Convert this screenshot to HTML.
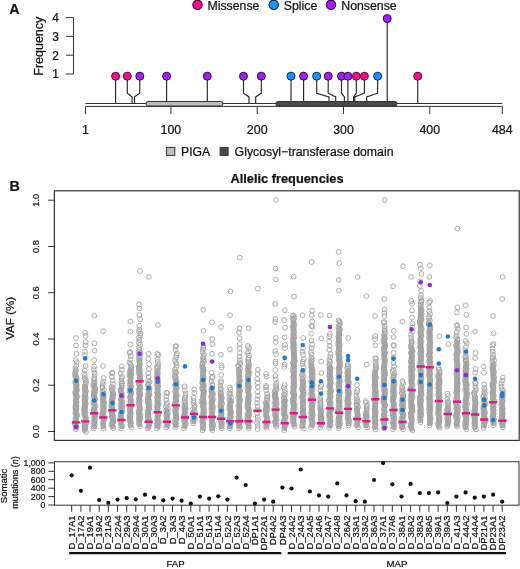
<!DOCTYPE html><html><head><meta charset="utf-8"><style>html,body{margin:0;padding:0;background:#fff;}svg{display:block;}text{font-family:"Liberation Sans", Arial, sans-serif;stroke:#111;stroke-width:0.22px;}</style></head><body>
<svg width="520" height="569" viewBox="0 0 520 569">
<rect width="520" height="569" fill="#fff"/>
<text x="9.3" y="13.6" font-size="14.3" font-weight="bold" fill="#111">A</text>
<circle cx="197.5" cy="4.8" r="4.7" fill="#EE1289" stroke="#5a0030" stroke-width="1.1"/>
<text x="207.5" y="9.9" font-size="12.3" fill="#111">Missense</text>
<circle cx="273.75" cy="4.8" r="4.7" fill="#1E90FF" stroke="#0a2a55" stroke-width="1.1"/>
<text x="283.75" y="9.9" font-size="12.3" fill="#111">Splice</text>
<circle cx="331.0" cy="4.8" r="4.7" fill="#A020F0" stroke="#350050" stroke-width="1.1"/>
<text x="341.25" y="9.9" font-size="12.3" fill="#111">Nonsense</text>
<g stroke="#333333" stroke-width="1" fill="none">
<path d="M73.5 17.6V74M66 17.6H73.5M66 36.4H73.5M66 55.2H73.5M66 74H73.5"/>
</g>
<text x="59" y="21.900000000000002" font-size="12" text-anchor="end" fill="#111">4</text>
<text x="59" y="40.699999999999996" font-size="12" text-anchor="end" fill="#111">3</text>
<text x="59" y="59.5" font-size="12" text-anchor="end" fill="#111">2</text>
<text x="59" y="78.3" font-size="12" text-anchor="end" fill="#111">1</text>
<text transform="translate(42.6,46.2) rotate(-90)" font-size="12.5" text-anchor="middle" fill="#111">Frequency</text>
<path d="M85.5 103.5H502.3M85.5 106.4H502.3" stroke="#333333" stroke-width="1" fill="none"/>
<path d="M85.5 106.4V114M170.9 106.4V114M257.2 106.4V114M343.5 106.4V114M429.8 106.4V114M502.3 106.4V114" stroke="#333333" stroke-width="1"/>
<text x="85.5" y="133.7" font-size="12.4" text-anchor="middle" fill="#111">1</text>
<text x="170.9" y="133.7" font-size="12.4" text-anchor="middle" fill="#111">100</text>
<text x="257.2" y="133.7" font-size="12.4" text-anchor="middle" fill="#111">200</text>
<text x="343.5" y="133.7" font-size="12.4" text-anchor="middle" fill="#111">300</text>
<text x="429.8" y="133.7" font-size="12.4" text-anchor="middle" fill="#111">400</text>
<text x="502.3" y="133.7" font-size="12.4" text-anchor="middle" fill="#111">484</text>
<path d="M115.6 76.2V103.5M127.3 76.2V93.2L132.1 96.9V103.5M139.8 76.2V93.2L134.5 96.9V103.5M166.6 76.2V103.5M207.3 76.2V103.5M243.5 76.2V93.2L249.0 96.9V103.5M261.3 76.2V93.2L255.7 96.9V103.5M291.0 76.2V103.5M303.6 76.2V103.5M316.7 76.2V93.2L329.0 96.9V103.5M328.2 76.2V93.2L335.7 96.9V103.5M341.5 76.2V93.2L344.4 96.9V103.5M347.9 76.2V103.5M356.3 76.2V93.2L353.6 96.9V103.5M364.4 76.2V93.2L354.8 96.9V103.5M377.6 76.2V93.2L366.7 96.9V103.5M417.7 76.2V103.5M387.2 18.5V103.5" stroke="#262626" stroke-width="1.15" fill="none"/>
<rect x="146.2" y="101.5" width="76.6" height="4.5" rx="1.6" fill="#bdbdbd" stroke="#333333" stroke-width="1"/>
<rect x="276.1" y="101.5" width="120.6" height="4.7" rx="1.6" fill="#4a4a4a" stroke="#333333" stroke-width="1"/>
<circle cx="115.6" cy="76.2" r="4.0" fill="#EE1289" stroke="#5a0030" stroke-width="1"/>
<circle cx="127.3" cy="76.2" r="4.0" fill="#EE1289" stroke="#5a0030" stroke-width="1"/>
<circle cx="139.8" cy="76.2" r="4.0" fill="#A020F0" stroke="#350050" stroke-width="1"/>
<circle cx="166.6" cy="76.2" r="4.0" fill="#A020F0" stroke="#350050" stroke-width="1"/>
<circle cx="207.3" cy="76.2" r="4.0" fill="#A020F0" stroke="#350050" stroke-width="1"/>
<circle cx="243.5" cy="76.2" r="4.0" fill="#A020F0" stroke="#350050" stroke-width="1"/>
<circle cx="261.3" cy="76.2" r="4.0" fill="#A020F0" stroke="#350050" stroke-width="1"/>
<circle cx="291.0" cy="76.2" r="4.0" fill="#1E90FF" stroke="#0a2a55" stroke-width="1"/>
<circle cx="303.6" cy="76.2" r="4.0" fill="#A020F0" stroke="#350050" stroke-width="1"/>
<circle cx="316.7" cy="76.2" r="4.0" fill="#1E90FF" stroke="#0a2a55" stroke-width="1"/>
<circle cx="328.2" cy="76.2" r="4.0" fill="#A020F0" stroke="#350050" stroke-width="1"/>
<circle cx="341.5" cy="76.2" r="4.0" fill="#A020F0" stroke="#350050" stroke-width="1"/>
<circle cx="347.9" cy="76.2" r="4.0" fill="#A020F0" stroke="#350050" stroke-width="1"/>
<circle cx="356.3" cy="76.2" r="4.0" fill="#EE1289" stroke="#5a0030" stroke-width="1"/>
<circle cx="364.4" cy="76.2" r="4.0" fill="#EE1289" stroke="#5a0030" stroke-width="1"/>
<circle cx="377.6" cy="76.2" r="4.0" fill="#1E90FF" stroke="#0a2a55" stroke-width="1"/>
<circle cx="417.7" cy="76.2" r="4.0" fill="#EE1289" stroke="#5a0030" stroke-width="1"/>
<circle cx="387.2" cy="18.5" r="4.0" fill="#A020F0" stroke="#350050" stroke-width="1"/>
<rect x="166.5" y="147.4" width="8.3" height="8.0" fill="#bdbdbd" stroke="#333333" stroke-width="1"/>
<text x="181.1" y="155.6" font-size="12.2" fill="#111">PIGA</text>
<rect x="220.1" y="147.4" width="8.0" height="8.0" fill="#4a4a4a" stroke="#333333" stroke-width="1"/>
<text x="234.6" y="155.6" font-size="12.3" fill="#111">Glycosyl−transferase domain</text>
<text x="9.5" y="191.3" font-size="14.3" font-weight="bold" fill="#111">B</text>
<text x="287" y="183" font-size="12.8" font-weight="bold" text-anchor="middle" fill="#111">Allelic frequencies</text>
<rect x="54.4" y="190.8" width="464.8" height="249.6" fill="none" stroke="#333333" stroke-width="1.2"/>
<text transform="translate(38.9,431.5) rotate(-90)" font-size="9.3" text-anchor="middle" fill="#111">0.0</text>
<text transform="translate(38.9,385.2) rotate(-90)" font-size="9.3" text-anchor="middle" fill="#111">0.2</text>
<text transform="translate(38.9,339.0) rotate(-90)" font-size="9.3" text-anchor="middle" fill="#111">0.4</text>
<text transform="translate(38.9,292.7) rotate(-90)" font-size="9.3" text-anchor="middle" fill="#111">0.6</text>
<text transform="translate(38.9,246.5) rotate(-90)" font-size="9.3" text-anchor="middle" fill="#111">0.8</text>
<text transform="translate(38.9,200.2) rotate(-90)" font-size="9.3" text-anchor="middle" fill="#111">1.0</text>
<path d="M48.1 431.5H54.5M48.1 385.2H54.5M48.1 339.0H54.5M48.1 292.7H54.5M48.1 246.5H54.5M48.1 200.2H54.5" stroke="#333333" stroke-width="1"/>
<text transform="translate(14.2,318.3) rotate(-90)" font-size="11.6" text-anchor="middle" fill="#111">VAF (%)</text>
<g fill="#b6b6b8"><rect x="73.5" y="374.0" width="5.2" height="56.0" rx="2"/><rect x="82.6" y="384.0" width="5.2" height="48.5" rx="2"/><rect x="91.6" y="383.0" width="5.2" height="46.0" rx="2"/><rect x="100.7" y="392.0" width="5.2" height="37.0" rx="2"/><rect x="109.8" y="392.0" width="5.2" height="37.0" rx="2"/><rect x="118.8" y="387.0" width="5.2" height="42.0" rx="2"/><rect x="127.9" y="367.6" width="5.2" height="60.4" rx="2"/><rect x="137.0" y="358.0" width="5.2" height="69.0" rx="2"/><rect x="146.0" y="385.0" width="5.2" height="44.0" rx="2"/><rect x="155.1" y="370.0" width="5.2" height="59.0" rx="2"/><rect x="164.2" y="408.0" width="5.2" height="20.0" rx="2"/><rect x="173.2" y="378.0" width="5.2" height="50.0" rx="2"/><rect x="182.3" y="404.0" width="5.2" height="25.0" rx="2"/><rect x="191.4" y="411.0" width="5.2" height="13.0" rx="2"/><rect x="200.5" y="364.0" width="5.2" height="67.0" rx="2"/><rect x="209.5" y="389.0" width="5.2" height="42.0" rx="2"/><rect x="218.6" y="393.5" width="5.2" height="35.5" rx="2"/><rect x="227.7" y="397.7" width="5.2" height="31.3" rx="2"/><rect x="236.7" y="368.0" width="5.2" height="61.0" rx="2"/><rect x="245.8" y="364.0" width="5.2" height="65.0" rx="2"/><rect x="263.9" y="402.0" width="5.2" height="26.5" rx="2"/><rect x="273.0" y="391.0" width="5.2" height="36.3" rx="2"/><rect x="282.1" y="398.0" width="5.2" height="33.0" rx="2"/><rect x="291.1" y="320.8" width="5.2" height="106.5" rx="2"/><rect x="300.2" y="379.0" width="5.2" height="50.0" rx="2"/><rect x="309.3" y="362.7" width="5.2" height="65.3" rx="2"/><rect x="318.3" y="407.0" width="5.2" height="21.0" rx="2"/><rect x="327.4" y="365.0" width="5.2" height="63.5" rx="2"/><rect x="336.5" y="325.7" width="5.2" height="103.3" rx="2"/><rect x="345.5" y="368.8" width="5.2" height="57.2" rx="2"/><rect x="354.6" y="406.0" width="5.2" height="22.0" rx="2"/><rect x="363.7" y="410.7" width="5.2" height="17.3" rx="2"/><rect x="372.7" y="370.0" width="5.2" height="60.0" rx="2"/><rect x="381.8" y="334.0" width="5.2" height="95.0" rx="2"/><rect x="390.9" y="377.4" width="5.2" height="52.4" rx="2"/><rect x="399.9" y="394.7" width="5.2" height="35.3" rx="2"/><rect x="409.0" y="345.4" width="5.2" height="85.6" rx="2"/><rect x="418.1" y="306.0" width="5.2" height="117.0" rx="2"/><rect x="427.2" y="322.0" width="5.2" height="104.0" rx="2"/><rect x="436.2" y="372.5" width="5.2" height="56.0" rx="2"/><rect x="445.3" y="407.0" width="5.2" height="20.3" rx="2"/><rect x="454.4" y="340.0" width="5.2" height="87.3" rx="2"/><rect x="463.4" y="361.0" width="5.2" height="69.0" rx="2"/><rect x="472.5" y="397.0" width="5.2" height="33.0" rx="2"/><rect x="481.6" y="398.0" width="5.2" height="30.5" rx="2"/><rect x="490.6" y="362.7" width="5.2" height="63.3" rx="2"/><rect x="499.7" y="394.7" width="5.2" height="33.3" rx="2"/></g>
<g fill="none" stroke="#a3a3a3" stroke-width="0.9"><circle cx="75.7" cy="429.4" r="2.4"/><circle cx="76.4" cy="427.7" r="2.4"/><circle cx="76.2" cy="426.0" r="2.4"/><circle cx="75.2" cy="424.8" r="2.4"/><circle cx="75.2" cy="423.4" r="2.4"/><circle cx="75.2" cy="422.1" r="2.4"/><circle cx="75.9" cy="421.2" r="2.4"/><circle cx="75.3" cy="419.5" r="2.4"/><circle cx="76.4" cy="418.4" r="2.4"/><circle cx="76.3" cy="416.7" r="2.4"/><circle cx="77.1" cy="415.4" r="2.4"/><circle cx="76.8" cy="414.5" r="2.4"/><circle cx="75.4" cy="413.3" r="2.4"/><circle cx="75.7" cy="412.3" r="2.4"/><circle cx="75.5" cy="410.7" r="2.4"/><circle cx="76.4" cy="409.2" r="2.4"/><circle cx="76.2" cy="408.0" r="2.4"/><circle cx="75.2" cy="407.1" r="2.4"/><circle cx="76.5" cy="406.0" r="2.4"/><circle cx="75.7" cy="404.7" r="2.4"/><circle cx="76.0" cy="403.3" r="2.4"/><circle cx="76.7" cy="402.1" r="2.4"/><circle cx="75.6" cy="400.6" r="2.4"/><circle cx="76.2" cy="399.1" r="2.4"/><circle cx="76.6" cy="397.4" r="2.4"/><circle cx="77.1" cy="396.3" r="2.4"/><circle cx="75.9" cy="395.3" r="2.4"/><circle cx="75.4" cy="393.7" r="2.4"/><circle cx="75.2" cy="392.4" r="2.4"/><circle cx="76.6" cy="390.9" r="2.4"/><circle cx="76.9" cy="389.4" r="2.4"/><circle cx="76.5" cy="388.3" r="2.4"/><circle cx="76.3" cy="386.8" r="2.4"/><circle cx="76.8" cy="385.5" r="2.4"/><circle cx="76.0" cy="383.8" r="2.4"/><circle cx="75.2" cy="382.3" r="2.4"/><circle cx="76.4" cy="380.7" r="2.4"/><circle cx="76.7" cy="378.9" r="2.4"/><circle cx="75.9" cy="377.8" r="2.4"/><circle cx="75.1" cy="376.1" r="2.4"/><circle cx="75.4" cy="374.6" r="2.4"/><circle cx="75.2" cy="373.4" r="2.4"/><circle cx="75.4" cy="371.6" r="2.4"/><circle cx="75.9" cy="370.3" r="2.4"/><circle cx="75.3" cy="368.4" r="2.4"/><circle cx="76.2" cy="366.0" r="2.4"/><circle cx="76.7" cy="362.3" r="2.4"/><circle cx="75.8" cy="360.0" r="2.4"/><circle cx="76.0" cy="338.0" r="2.4"/><circle cx="76.0" cy="345.4" r="2.4"/><circle cx="76.5" cy="353.8" r="2.4"/><circle cx="86.1" cy="431.9" r="2.4"/><circle cx="84.5" cy="430.2" r="2.4"/><circle cx="84.6" cy="428.4" r="2.4"/><circle cx="85.3" cy="427.1" r="2.4"/><circle cx="84.2" cy="425.9" r="2.4"/><circle cx="84.9" cy="424.6" r="2.4"/><circle cx="86.1" cy="423.2" r="2.4"/><circle cx="85.2" cy="421.7" r="2.4"/><circle cx="85.5" cy="420.3" r="2.4"/><circle cx="86.0" cy="419.3" r="2.4"/><circle cx="85.9" cy="417.7" r="2.4"/><circle cx="85.0" cy="416.1" r="2.4"/><circle cx="84.4" cy="414.8" r="2.4"/><circle cx="84.3" cy="413.4" r="2.4"/><circle cx="84.6" cy="412.4" r="2.4"/><circle cx="84.8" cy="411.4" r="2.4"/><circle cx="84.2" cy="410.4" r="2.4"/><circle cx="84.4" cy="409.4" r="2.4"/><circle cx="84.2" cy="408.1" r="2.4"/><circle cx="85.4" cy="406.5" r="2.4"/><circle cx="84.7" cy="405.4" r="2.4"/><circle cx="84.9" cy="404.2" r="2.4"/><circle cx="85.9" cy="403.2" r="2.4"/><circle cx="85.1" cy="401.4" r="2.4"/><circle cx="84.3" cy="400.1" r="2.4"/><circle cx="84.9" cy="399.1" r="2.4"/><circle cx="85.8" cy="397.9" r="2.4"/><circle cx="84.2" cy="396.9" r="2.4"/><circle cx="85.2" cy="395.1" r="2.4"/><circle cx="85.3" cy="394.1" r="2.4"/><circle cx="85.2" cy="393.2" r="2.4"/><circle cx="85.9" cy="391.4" r="2.4"/><circle cx="84.7" cy="389.9" r="2.4"/><circle cx="84.5" cy="388.6" r="2.4"/><circle cx="85.2" cy="387.0" r="2.4"/><circle cx="84.8" cy="385.2" r="2.4"/><circle cx="85.8" cy="383.9" r="2.4"/><circle cx="85.9" cy="382.0" r="2.4"/><circle cx="85.8" cy="380.1" r="2.4"/><circle cx="84.6" cy="378.4" r="2.4"/><circle cx="84.9" cy="376.0" r="2.4"/><circle cx="84.3" cy="373.7" r="2.4"/><circle cx="84.7" cy="370.4" r="2.4"/><circle cx="85.7" cy="366.0" r="2.4"/><circle cx="85.1" cy="332.7" r="2.4"/><circle cx="85.6" cy="336.0" r="2.4"/><circle cx="85.7" cy="342.0" r="2.4"/><circle cx="85.6" cy="345.4" r="2.4"/><circle cx="85.0" cy="351.7" r="2.4"/><circle cx="84.9" cy="355.0" r="2.4"/><circle cx="93.7" cy="428.4" r="2.4"/><circle cx="93.6" cy="426.6" r="2.4"/><circle cx="95.0" cy="424.5" r="2.4"/><circle cx="94.2" cy="422.9" r="2.4"/><circle cx="94.8" cy="421.4" r="2.4"/><circle cx="94.6" cy="420.4" r="2.4"/><circle cx="94.8" cy="418.7" r="2.4"/><circle cx="94.2" cy="417.1" r="2.4"/><circle cx="94.8" cy="416.1" r="2.4"/><circle cx="94.8" cy="414.9" r="2.4"/><circle cx="94.0" cy="413.1" r="2.4"/><circle cx="95.1" cy="411.8" r="2.4"/><circle cx="93.6" cy="410.3" r="2.4"/><circle cx="93.5" cy="409.3" r="2.4"/><circle cx="94.8" cy="407.6" r="2.4"/><circle cx="94.9" cy="406.5" r="2.4"/><circle cx="94.6" cy="404.7" r="2.4"/><circle cx="94.3" cy="403.5" r="2.4"/><circle cx="93.3" cy="402.5" r="2.4"/><circle cx="94.5" cy="400.7" r="2.4"/><circle cx="95.1" cy="399.4" r="2.4"/><circle cx="95.0" cy="398.1" r="2.4"/><circle cx="93.7" cy="396.4" r="2.4"/><circle cx="93.8" cy="395.3" r="2.4"/><circle cx="94.4" cy="394.2" r="2.4"/><circle cx="94.1" cy="393.0" r="2.4"/><circle cx="95.1" cy="392.0" r="2.4"/><circle cx="94.2" cy="390.8" r="2.4"/><circle cx="95.0" cy="389.4" r="2.4"/><circle cx="95.1" cy="388.1" r="2.4"/><circle cx="94.3" cy="386.8" r="2.4"/><circle cx="93.3" cy="385.2" r="2.4"/><circle cx="93.6" cy="383.7" r="2.4"/><circle cx="94.8" cy="382.6" r="2.4"/><circle cx="94.2" cy="381.3" r="2.4"/><circle cx="94.3" cy="379.6" r="2.4"/><circle cx="94.3" cy="378.2" r="2.4"/><circle cx="94.7" cy="375.0" r="2.4"/><circle cx="94.3" cy="372.5" r="2.4"/><circle cx="93.8" cy="369.4" r="2.4"/><circle cx="94.2" cy="366.5" r="2.4"/><circle cx="94.3" cy="315.8" r="2.4"/><circle cx="94.5" cy="343.3" r="2.4"/><circle cx="94.6" cy="350.7" r="2.4"/><circle cx="94.2" cy="360.2" r="2.4"/><circle cx="103.5" cy="428.4" r="2.4"/><circle cx="103.3" cy="426.4" r="2.4"/><circle cx="103.2" cy="424.2" r="2.4"/><circle cx="103.3" cy="422.9" r="2.4"/><circle cx="103.7" cy="421.1" r="2.4"/><circle cx="104.2" cy="419.4" r="2.4"/><circle cx="103.4" cy="418.3" r="2.4"/><circle cx="104.0" cy="416.5" r="2.4"/><circle cx="102.5" cy="415.5" r="2.4"/><circle cx="102.4" cy="414.2" r="2.4"/><circle cx="102.5" cy="413.1" r="2.4"/><circle cx="103.9" cy="411.6" r="2.4"/><circle cx="102.6" cy="409.9" r="2.4"/><circle cx="103.6" cy="408.4" r="2.4"/><circle cx="104.1" cy="407.3" r="2.4"/><circle cx="102.7" cy="405.6" r="2.4"/><circle cx="103.1" cy="403.8" r="2.4"/><circle cx="104.3" cy="402.5" r="2.4"/><circle cx="102.6" cy="400.8" r="2.4"/><circle cx="103.3" cy="399.5" r="2.4"/><circle cx="102.7" cy="398.3" r="2.4"/><circle cx="103.7" cy="397.1" r="2.4"/><circle cx="103.4" cy="396.2" r="2.4"/><circle cx="102.3" cy="394.9" r="2.4"/><circle cx="103.6" cy="393.5" r="2.4"/><circle cx="102.4" cy="392.0" r="2.4"/><circle cx="103.9" cy="390.0" r="2.4"/><circle cx="102.5" cy="388.0" r="2.4"/><circle cx="102.4" cy="386.7" r="2.4"/><circle cx="102.9" cy="384.0" r="2.4"/><circle cx="103.2" cy="381.5" r="2.4"/><circle cx="103.7" cy="378.0" r="2.4"/><circle cx="103.1" cy="331.2" r="2.4"/><circle cx="103.0" cy="366.0" r="2.4"/><circle cx="113.2" cy="428.4" r="2.4"/><circle cx="112.8" cy="426.3" r="2.4"/><circle cx="111.5" cy="424.7" r="2.4"/><circle cx="112.2" cy="423.2" r="2.4"/><circle cx="113.2" cy="422.2" r="2.4"/><circle cx="113.0" cy="420.7" r="2.4"/><circle cx="113.1" cy="419.7" r="2.4"/><circle cx="113.1" cy="418.8" r="2.4"/><circle cx="112.1" cy="417.5" r="2.4"/><circle cx="113.2" cy="416.1" r="2.4"/><circle cx="111.6" cy="414.9" r="2.4"/><circle cx="111.8" cy="413.6" r="2.4"/><circle cx="111.7" cy="412.6" r="2.4"/><circle cx="111.8" cy="411.6" r="2.4"/><circle cx="112.0" cy="410.4" r="2.4"/><circle cx="112.0" cy="408.9" r="2.4"/><circle cx="111.7" cy="407.5" r="2.4"/><circle cx="111.4" cy="406.3" r="2.4"/><circle cx="111.4" cy="405.2" r="2.4"/><circle cx="112.5" cy="403.6" r="2.4"/><circle cx="112.3" cy="402.5" r="2.4"/><circle cx="111.6" cy="400.8" r="2.4"/><circle cx="112.2" cy="399.2" r="2.4"/><circle cx="113.0" cy="397.8" r="2.4"/><circle cx="112.4" cy="396.6" r="2.4"/><circle cx="113.3" cy="395.0" r="2.4"/><circle cx="113.0" cy="393.6" r="2.4"/><circle cx="112.6" cy="391.9" r="2.4"/><circle cx="112.1" cy="390.4" r="2.4"/><circle cx="111.6" cy="389.3" r="2.4"/><circle cx="112.9" cy="388.1" r="2.4"/><circle cx="111.7" cy="386.8" r="2.4"/><circle cx="113.0" cy="384.0" r="2.4"/><circle cx="112.7" cy="380.4" r="2.4"/><circle cx="111.9" cy="377.1" r="2.4"/><circle cx="112.3" cy="373.3" r="2.4"/><circle cx="112.3" cy="372.6" r="2.4"/><circle cx="121.0" cy="428.4" r="2.4"/><circle cx="122.4" cy="426.0" r="2.4"/><circle cx="120.9" cy="424.0" r="2.4"/><circle cx="121.1" cy="422.2" r="2.4"/><circle cx="120.4" cy="421.0" r="2.4"/><circle cx="121.4" cy="419.8" r="2.4"/><circle cx="120.8" cy="418.4" r="2.4"/><circle cx="120.4" cy="417.1" r="2.4"/><circle cx="120.6" cy="415.9" r="2.4"/><circle cx="120.5" cy="414.7" r="2.4"/><circle cx="121.0" cy="413.7" r="2.4"/><circle cx="121.6" cy="412.6" r="2.4"/><circle cx="121.9" cy="411.2" r="2.4"/><circle cx="121.9" cy="409.8" r="2.4"/><circle cx="121.2" cy="408.1" r="2.4"/><circle cx="122.4" cy="406.9" r="2.4"/><circle cx="121.9" cy="405.8" r="2.4"/><circle cx="120.5" cy="404.4" r="2.4"/><circle cx="122.2" cy="402.7" r="2.4"/><circle cx="121.9" cy="401.2" r="2.4"/><circle cx="120.7" cy="399.6" r="2.4"/><circle cx="121.4" cy="398.2" r="2.4"/><circle cx="122.0" cy="396.6" r="2.4"/><circle cx="121.6" cy="394.9" r="2.4"/><circle cx="121.8" cy="393.2" r="2.4"/><circle cx="120.9" cy="391.7" r="2.4"/><circle cx="120.7" cy="390.8" r="2.4"/><circle cx="120.6" cy="389.4" r="2.4"/><circle cx="121.6" cy="387.5" r="2.4"/><circle cx="121.7" cy="385.8" r="2.4"/><circle cx="121.4" cy="384.1" r="2.4"/><circle cx="122.0" cy="383.0" r="2.4"/><circle cx="121.4" cy="381.3" r="2.4"/><circle cx="121.7" cy="379.0" r="2.4"/><circle cx="121.9" cy="376.6" r="2.4"/><circle cx="120.7" cy="373.4" r="2.4"/><circle cx="121.9" cy="369.7" r="2.4"/><circle cx="121.7" cy="366.5" r="2.4"/><circle cx="131.5" cy="427.4" r="2.4"/><circle cx="130.3" cy="425.4" r="2.4"/><circle cx="130.9" cy="423.4" r="2.4"/><circle cx="130.7" cy="421.8" r="2.4"/><circle cx="129.7" cy="420.4" r="2.4"/><circle cx="130.0" cy="419.3" r="2.4"/><circle cx="130.1" cy="417.8" r="2.4"/><circle cx="129.5" cy="416.3" r="2.4"/><circle cx="130.0" cy="415.4" r="2.4"/><circle cx="130.9" cy="413.9" r="2.4"/><circle cx="130.1" cy="412.4" r="2.4"/><circle cx="130.4" cy="411.0" r="2.4"/><circle cx="129.7" cy="409.7" r="2.4"/><circle cx="129.9" cy="408.0" r="2.4"/><circle cx="131.4" cy="406.2" r="2.4"/><circle cx="130.4" cy="405.3" r="2.4"/><circle cx="131.4" cy="403.6" r="2.4"/><circle cx="130.0" cy="402.3" r="2.4"/><circle cx="131.4" cy="401.3" r="2.4"/><circle cx="130.7" cy="400.2" r="2.4"/><circle cx="130.6" cy="399.1" r="2.4"/><circle cx="129.8" cy="397.4" r="2.4"/><circle cx="130.5" cy="395.7" r="2.4"/><circle cx="130.9" cy="394.0" r="2.4"/><circle cx="131.3" cy="392.9" r="2.4"/><circle cx="129.6" cy="391.6" r="2.4"/><circle cx="130.5" cy="390.7" r="2.4"/><circle cx="130.1" cy="389.4" r="2.4"/><circle cx="130.2" cy="388.4" r="2.4"/><circle cx="131.2" cy="387.2" r="2.4"/><circle cx="131.0" cy="386.3" r="2.4"/><circle cx="129.7" cy="384.6" r="2.4"/><circle cx="130.9" cy="382.9" r="2.4"/><circle cx="130.1" cy="381.2" r="2.4"/><circle cx="130.3" cy="379.9" r="2.4"/><circle cx="130.7" cy="378.1" r="2.4"/><circle cx="130.4" cy="376.9" r="2.4"/><circle cx="129.6" cy="375.8" r="2.4"/><circle cx="131.2" cy="374.8" r="2.4"/><circle cx="131.4" cy="373.6" r="2.4"/><circle cx="130.0" cy="372.5" r="2.4"/><circle cx="129.9" cy="371.1" r="2.4"/><circle cx="131.4" cy="369.7" r="2.4"/><circle cx="131.1" cy="367.8" r="2.4"/><circle cx="131.3" cy="366.1" r="2.4"/><circle cx="130.6" cy="364.2" r="2.4"/><circle cx="129.6" cy="362.4" r="2.4"/><circle cx="130.4" cy="359.6" r="2.4"/><circle cx="130.8" cy="356.1" r="2.4"/><circle cx="129.7" cy="352.9" r="2.4"/><circle cx="130.1" cy="352.0" r="2.4"/><circle cx="130.5" cy="321.4" r="2.4"/><circle cx="130.4" cy="331.7" r="2.4"/><circle cx="130.3" cy="344.4" r="2.4"/><circle cx="140.1" cy="426.4" r="2.4"/><circle cx="139.1" cy="424.0" r="2.4"/><circle cx="139.2" cy="421.9" r="2.4"/><circle cx="139.4" cy="420.5" r="2.4"/><circle cx="138.9" cy="419.4" r="2.4"/><circle cx="140.4" cy="418.4" r="2.4"/><circle cx="139.0" cy="417.0" r="2.4"/><circle cx="140.6" cy="415.3" r="2.4"/><circle cx="138.9" cy="414.0" r="2.4"/><circle cx="138.8" cy="412.9" r="2.4"/><circle cx="138.8" cy="411.7" r="2.4"/><circle cx="139.1" cy="410.6" r="2.4"/><circle cx="140.4" cy="409.2" r="2.4"/><circle cx="139.4" cy="407.6" r="2.4"/><circle cx="139.6" cy="406.3" r="2.4"/><circle cx="139.3" cy="405.1" r="2.4"/><circle cx="139.1" cy="404.1" r="2.4"/><circle cx="138.8" cy="402.4" r="2.4"/><circle cx="139.8" cy="401.0" r="2.4"/><circle cx="139.0" cy="399.3" r="2.4"/><circle cx="139.1" cy="398.2" r="2.4"/><circle cx="139.5" cy="396.9" r="2.4"/><circle cx="140.3" cy="395.2" r="2.4"/><circle cx="138.6" cy="393.5" r="2.4"/><circle cx="140.0" cy="392.6" r="2.4"/><circle cx="139.5" cy="390.9" r="2.4"/><circle cx="138.6" cy="389.4" r="2.4"/><circle cx="140.4" cy="388.2" r="2.4"/><circle cx="140.3" cy="386.5" r="2.4"/><circle cx="139.1" cy="384.8" r="2.4"/><circle cx="138.9" cy="383.8" r="2.4"/><circle cx="139.9" cy="382.4" r="2.4"/><circle cx="140.0" cy="380.6" r="2.4"/><circle cx="140.1" cy="379.2" r="2.4"/><circle cx="139.7" cy="377.8" r="2.4"/><circle cx="140.1" cy="376.9" r="2.4"/><circle cx="140.4" cy="375.8" r="2.4"/><circle cx="139.2" cy="374.3" r="2.4"/><circle cx="139.1" cy="373.3" r="2.4"/><circle cx="140.0" cy="371.8" r="2.4"/><circle cx="138.7" cy="370.8" r="2.4"/><circle cx="139.7" cy="369.5" r="2.4"/><circle cx="139.0" cy="368.2" r="2.4"/><circle cx="138.6" cy="366.8" r="2.4"/><circle cx="139.5" cy="365.6" r="2.4"/><circle cx="139.9" cy="363.8" r="2.4"/><circle cx="139.5" cy="362.1" r="2.4"/><circle cx="139.1" cy="361.0" r="2.4"/><circle cx="140.0" cy="359.1" r="2.4"/><circle cx="138.6" cy="357.7" r="2.4"/><circle cx="139.9" cy="356.1" r="2.4"/><circle cx="139.1" cy="354.7" r="2.4"/><circle cx="140.4" cy="353.0" r="2.4"/><circle cx="138.6" cy="352.0" r="2.4"/><circle cx="139.4" cy="350.0" r="2.4"/><circle cx="139.0" cy="347.6" r="2.4"/><circle cx="140.1" cy="345.0" r="2.4"/><circle cx="139.0" cy="342.8" r="2.4"/><circle cx="139.2" cy="340.0" r="2.4"/><circle cx="139.0" cy="337.5" r="2.4"/><circle cx="140.1" cy="335.6" r="2.4"/><circle cx="140.5" cy="333.6" r="2.4"/><circle cx="139.0" cy="331.5" r="2.4"/><circle cx="139.4" cy="329.6" r="2.4"/><circle cx="140.0" cy="271.0" r="2.4"/><circle cx="139.2" cy="304.3" r="2.4"/><circle cx="139.5" cy="308.5" r="2.4"/><circle cx="139.3" cy="315.1" r="2.4"/><circle cx="140.1" cy="319.0" r="2.4"/><circle cx="139.2" cy="325.8" r="2.4"/><circle cx="147.7" cy="428.4" r="2.4"/><circle cx="148.4" cy="426.8" r="2.4"/><circle cx="149.4" cy="424.4" r="2.4"/><circle cx="149.6" cy="422.9" r="2.4"/><circle cx="148.3" cy="421.1" r="2.4"/><circle cx="149.5" cy="420.1" r="2.4"/><circle cx="147.7" cy="418.5" r="2.4"/><circle cx="148.4" cy="417.0" r="2.4"/><circle cx="148.3" cy="415.8" r="2.4"/><circle cx="147.6" cy="414.7" r="2.4"/><circle cx="148.3" cy="413.6" r="2.4"/><circle cx="147.9" cy="411.8" r="2.4"/><circle cx="148.1" cy="410.0" r="2.4"/><circle cx="149.3" cy="408.8" r="2.4"/><circle cx="148.5" cy="407.2" r="2.4"/><circle cx="148.6" cy="406.2" r="2.4"/><circle cx="149.5" cy="405.0" r="2.4"/><circle cx="148.4" cy="403.9" r="2.4"/><circle cx="147.7" cy="402.2" r="2.4"/><circle cx="149.3" cy="400.9" r="2.4"/><circle cx="147.7" cy="399.3" r="2.4"/><circle cx="147.8" cy="398.4" r="2.4"/><circle cx="148.2" cy="396.7" r="2.4"/><circle cx="149.4" cy="395.1" r="2.4"/><circle cx="148.2" cy="393.9" r="2.4"/><circle cx="148.9" cy="392.2" r="2.4"/><circle cx="149.1" cy="391.0" r="2.4"/><circle cx="148.2" cy="389.8" r="2.4"/><circle cx="149.2" cy="388.9" r="2.4"/><circle cx="148.9" cy="387.0" r="2.4"/><circle cx="147.7" cy="385.1" r="2.4"/><circle cx="148.6" cy="383.7" r="2.4"/><circle cx="149.6" cy="381.8" r="2.4"/><circle cx="148.1" cy="380.3" r="2.4"/><circle cx="148.6" cy="377.0" r="2.4"/><circle cx="148.1" cy="373.3" r="2.4"/><circle cx="149.1" cy="369.1" r="2.4"/><circle cx="149.1" cy="364.1" r="2.4"/><circle cx="148.3" cy="358.8" r="2.4"/><circle cx="148.5" cy="353.8" r="2.4"/><circle cx="148.9" cy="276.9" r="2.4"/><circle cx="156.9" cy="428.4" r="2.4"/><circle cx="158.2" cy="426.6" r="2.4"/><circle cx="156.8" cy="424.8" r="2.4"/><circle cx="157.8" cy="423.9" r="2.4"/><circle cx="158.7" cy="422.7" r="2.4"/><circle cx="158.7" cy="421.0" r="2.4"/><circle cx="156.9" cy="419.9" r="2.4"/><circle cx="157.7" cy="418.9" r="2.4"/><circle cx="157.6" cy="417.4" r="2.4"/><circle cx="157.5" cy="416.3" r="2.4"/><circle cx="158.1" cy="414.8" r="2.4"/><circle cx="158.4" cy="413.2" r="2.4"/><circle cx="157.0" cy="411.7" r="2.4"/><circle cx="157.3" cy="410.1" r="2.4"/><circle cx="157.5" cy="408.7" r="2.4"/><circle cx="157.1" cy="407.1" r="2.4"/><circle cx="157.2" cy="406.0" r="2.4"/><circle cx="158.5" cy="404.9" r="2.4"/><circle cx="157.4" cy="403.5" r="2.4"/><circle cx="158.7" cy="402.3" r="2.4"/><circle cx="157.2" cy="400.9" r="2.4"/><circle cx="158.0" cy="399.3" r="2.4"/><circle cx="156.9" cy="397.5" r="2.4"/><circle cx="158.4" cy="396.1" r="2.4"/><circle cx="158.5" cy="394.5" r="2.4"/><circle cx="157.3" cy="393.6" r="2.4"/><circle cx="157.1" cy="392.5" r="2.4"/><circle cx="157.9" cy="390.8" r="2.4"/><circle cx="157.5" cy="389.0" r="2.4"/><circle cx="157.6" cy="387.4" r="2.4"/><circle cx="158.3" cy="386.2" r="2.4"/><circle cx="156.9" cy="384.5" r="2.4"/><circle cx="158.0" cy="383.0" r="2.4"/><circle cx="157.4" cy="381.9" r="2.4"/><circle cx="157.1" cy="380.9" r="2.4"/><circle cx="157.9" cy="379.8" r="2.4"/><circle cx="157.1" cy="378.3" r="2.4"/><circle cx="157.4" cy="377.4" r="2.4"/><circle cx="157.1" cy="375.9" r="2.4"/><circle cx="157.1" cy="374.7" r="2.4"/><circle cx="157.8" cy="373.1" r="2.4"/><circle cx="156.9" cy="371.9" r="2.4"/><circle cx="157.8" cy="370.5" r="2.4"/><circle cx="156.9" cy="368.8" r="2.4"/><circle cx="158.1" cy="367.5" r="2.4"/><circle cx="157.3" cy="366.1" r="2.4"/><circle cx="158.6" cy="364.7" r="2.4"/><circle cx="157.8" cy="362.0" r="2.4"/><circle cx="157.6" cy="359.2" r="2.4"/><circle cx="158.6" cy="354.9" r="2.4"/><circle cx="157.3" cy="353.8" r="2.4"/><circle cx="157.9" cy="325.0" r="2.4"/><circle cx="166.2" cy="427.4" r="2.4"/><circle cx="167.6" cy="425.8" r="2.4"/><circle cx="167.4" cy="423.9" r="2.4"/><circle cx="167.5" cy="422.6" r="2.4"/><circle cx="166.1" cy="421.3" r="2.4"/><circle cx="166.9" cy="420.4" r="2.4"/><circle cx="167.6" cy="418.9" r="2.4"/><circle cx="167.0" cy="417.9" r="2.4"/><circle cx="166.8" cy="416.7" r="2.4"/><circle cx="166.3" cy="415.6" r="2.4"/><circle cx="167.6" cy="414.3" r="2.4"/><circle cx="166.8" cy="413.3" r="2.4"/><circle cx="167.7" cy="411.6" r="2.4"/><circle cx="166.0" cy="410.4" r="2.4"/><circle cx="167.7" cy="408.4" r="2.4"/><circle cx="165.9" cy="406.9" r="2.4"/><circle cx="166.6" cy="405.0" r="2.4"/><circle cx="167.0" cy="403.0" r="2.4"/><circle cx="166.2" cy="400.0" r="2.4"/><circle cx="166.3" cy="396.5" r="2.4"/><circle cx="167.4" cy="393.0" r="2.4"/><circle cx="166.4" cy="392.8" r="2.4"/><circle cx="175.3" cy="427.4" r="2.4"/><circle cx="175.9" cy="425.5" r="2.4"/><circle cx="175.1" cy="423.6" r="2.4"/><circle cx="176.3" cy="422.5" r="2.4"/><circle cx="174.9" cy="420.7" r="2.4"/><circle cx="176.4" cy="419.3" r="2.4"/><circle cx="176.5" cy="418.4" r="2.4"/><circle cx="176.0" cy="417.4" r="2.4"/><circle cx="176.1" cy="416.0" r="2.4"/><circle cx="175.7" cy="414.8" r="2.4"/><circle cx="175.7" cy="413.4" r="2.4"/><circle cx="175.7" cy="411.9" r="2.4"/><circle cx="174.9" cy="410.6" r="2.4"/><circle cx="175.8" cy="409.2" r="2.4"/><circle cx="176.4" cy="408.0" r="2.4"/><circle cx="175.8" cy="406.4" r="2.4"/><circle cx="175.8" cy="405.4" r="2.4"/><circle cx="175.1" cy="404.4" r="2.4"/><circle cx="175.0" cy="403.1" r="2.4"/><circle cx="175.9" cy="401.8" r="2.4"/><circle cx="176.1" cy="400.9" r="2.4"/><circle cx="176.3" cy="399.9" r="2.4"/><circle cx="175.9" cy="398.3" r="2.4"/><circle cx="175.9" cy="397.3" r="2.4"/><circle cx="176.7" cy="396.1" r="2.4"/><circle cx="176.6" cy="395.1" r="2.4"/><circle cx="176.3" cy="393.3" r="2.4"/><circle cx="175.2" cy="391.6" r="2.4"/><circle cx="175.8" cy="389.9" r="2.4"/><circle cx="176.7" cy="388.1" r="2.4"/><circle cx="176.4" cy="387.1" r="2.4"/><circle cx="175.0" cy="385.3" r="2.4"/><circle cx="176.4" cy="384.1" r="2.4"/><circle cx="176.6" cy="383.1" r="2.4"/><circle cx="176.5" cy="381.9" r="2.4"/><circle cx="175.9" cy="380.7" r="2.4"/><circle cx="175.3" cy="378.8" r="2.4"/><circle cx="175.9" cy="377.4" r="2.4"/><circle cx="174.9" cy="376.0" r="2.4"/><circle cx="175.2" cy="374.8" r="2.4"/><circle cx="176.2" cy="372.8" r="2.4"/><circle cx="175.2" cy="372.0" r="2.4"/><circle cx="175.1" cy="369.5" r="2.4"/><circle cx="176.1" cy="367.2" r="2.4"/><circle cx="176.6" cy="365.2" r="2.4"/><circle cx="176.0" cy="362.9" r="2.4"/><circle cx="175.1" cy="360.3" r="2.4"/><circle cx="176.1" cy="357.5" r="2.4"/><circle cx="176.4" cy="355.4" r="2.4"/><circle cx="176.8" cy="353.5" r="2.4"/><circle cx="175.6" cy="350.0" r="2.4"/><circle cx="175.7" cy="346.5" r="2.4"/><circle cx="176.1" cy="346.0" r="2.4"/><circle cx="184.0" cy="428.4" r="2.4"/><circle cx="184.4" cy="426.1" r="2.4"/><circle cx="185.9" cy="424.0" r="2.4"/><circle cx="185.2" cy="422.6" r="2.4"/><circle cx="183.9" cy="421.4" r="2.4"/><circle cx="184.2" cy="420.5" r="2.4"/><circle cx="184.8" cy="419.0" r="2.4"/><circle cx="185.7" cy="417.7" r="2.4"/><circle cx="184.4" cy="416.7" r="2.4"/><circle cx="184.0" cy="415.2" r="2.4"/><circle cx="184.6" cy="414.3" r="2.4"/><circle cx="184.6" cy="413.3" r="2.4"/><circle cx="185.1" cy="412.2" r="2.4"/><circle cx="184.3" cy="410.7" r="2.4"/><circle cx="184.9" cy="409.3" r="2.4"/><circle cx="185.8" cy="408.3" r="2.4"/><circle cx="184.2" cy="407.1" r="2.4"/><circle cx="185.2" cy="406.0" r="2.4"/><circle cx="185.5" cy="404.1" r="2.4"/><circle cx="184.4" cy="402.6" r="2.4"/><circle cx="185.2" cy="401.5" r="2.4"/><circle cx="184.6" cy="399.9" r="2.4"/><circle cx="184.8" cy="398.2" r="2.4"/><circle cx="185.3" cy="396.0" r="2.4"/><circle cx="185.6" cy="393.3" r="2.4"/><circle cx="185.0" cy="390.5" r="2.4"/><circle cx="184.6" cy="386.5" r="2.4"/><circle cx="193.1" cy="423.4" r="2.4"/><circle cx="193.0" cy="421.2" r="2.4"/><circle cx="194.9" cy="419.1" r="2.4"/><circle cx="193.4" cy="418.1" r="2.4"/><circle cx="194.0" cy="416.7" r="2.4"/><circle cx="194.6" cy="415.2" r="2.4"/><circle cx="193.6" cy="414.1" r="2.4"/><circle cx="193.1" cy="412.8" r="2.4"/><circle cx="194.5" cy="410.9" r="2.4"/><circle cx="193.0" cy="409.1" r="2.4"/><circle cx="194.5" cy="407.3" r="2.4"/><circle cx="194.5" cy="405.7" r="2.4"/><circle cx="193.5" cy="403.0" r="2.4"/><circle cx="193.5" cy="400.5" r="2.4"/><circle cx="193.7" cy="397.8" r="2.4"/><circle cx="194.3" cy="392.9" r="2.4"/><circle cx="194.2" cy="389.6" r="2.4"/><circle cx="202.6" cy="430.4" r="2.4"/><circle cx="202.9" cy="428.4" r="2.4"/><circle cx="203.1" cy="426.1" r="2.4"/><circle cx="203.3" cy="425.0" r="2.4"/><circle cx="202.5" cy="423.2" r="2.4"/><circle cx="202.1" cy="421.5" r="2.4"/><circle cx="202.5" cy="420.4" r="2.4"/><circle cx="203.9" cy="418.8" r="2.4"/><circle cx="202.7" cy="417.3" r="2.4"/><circle cx="202.7" cy="415.6" r="2.4"/><circle cx="203.9" cy="414.4" r="2.4"/><circle cx="203.4" cy="413.0" r="2.4"/><circle cx="204.0" cy="411.5" r="2.4"/><circle cx="203.7" cy="410.2" r="2.4"/><circle cx="203.8" cy="408.6" r="2.4"/><circle cx="203.5" cy="407.3" r="2.4"/><circle cx="202.7" cy="405.9" r="2.4"/><circle cx="203.3" cy="404.8" r="2.4"/><circle cx="203.9" cy="403.9" r="2.4"/><circle cx="202.1" cy="402.8" r="2.4"/><circle cx="203.9" cy="401.8" r="2.4"/><circle cx="202.3" cy="400.6" r="2.4"/><circle cx="202.1" cy="399.7" r="2.4"/><circle cx="203.3" cy="398.2" r="2.4"/><circle cx="203.5" cy="396.6" r="2.4"/><circle cx="203.2" cy="395.7" r="2.4"/><circle cx="203.7" cy="394.5" r="2.4"/><circle cx="203.8" cy="392.8" r="2.4"/><circle cx="203.8" cy="391.9" r="2.4"/><circle cx="203.9" cy="390.1" r="2.4"/><circle cx="202.5" cy="389.1" r="2.4"/><circle cx="202.1" cy="388.1" r="2.4"/><circle cx="203.7" cy="386.5" r="2.4"/><circle cx="203.7" cy="385.0" r="2.4"/><circle cx="202.6" cy="383.5" r="2.4"/><circle cx="202.2" cy="382.6" r="2.4"/><circle cx="202.5" cy="381.0" r="2.4"/><circle cx="202.9" cy="379.8" r="2.4"/><circle cx="202.6" cy="378.9" r="2.4"/><circle cx="203.5" cy="377.7" r="2.4"/><circle cx="202.7" cy="376.5" r="2.4"/><circle cx="203.1" cy="374.7" r="2.4"/><circle cx="203.3" cy="373.0" r="2.4"/><circle cx="202.9" cy="372.1" r="2.4"/><circle cx="203.6" cy="370.8" r="2.4"/><circle cx="203.5" cy="369.6" r="2.4"/><circle cx="202.5" cy="368.2" r="2.4"/><circle cx="202.2" cy="366.6" r="2.4"/><circle cx="202.4" cy="364.7" r="2.4"/><circle cx="202.5" cy="363.6" r="2.4"/><circle cx="204.0" cy="361.8" r="2.4"/><circle cx="203.0" cy="360.7" r="2.4"/><circle cx="203.6" cy="359.2" r="2.4"/><circle cx="203.0" cy="358.0" r="2.4"/><circle cx="203.7" cy="356.0" r="2.4"/><circle cx="203.9" cy="354.1" r="2.4"/><circle cx="202.5" cy="352.1" r="2.4"/><circle cx="203.0" cy="349.7" r="2.4"/><circle cx="203.3" cy="348.0" r="2.4"/><circle cx="203.4" cy="346.0" r="2.4"/><circle cx="203.2" cy="309.8" r="2.4"/><circle cx="203.3" cy="330.8" r="2.4"/><circle cx="212.4" cy="430.4" r="2.4"/><circle cx="211.9" cy="428.5" r="2.4"/><circle cx="212.9" cy="426.6" r="2.4"/><circle cx="212.9" cy="425.6" r="2.4"/><circle cx="211.5" cy="424.7" r="2.4"/><circle cx="212.9" cy="423.6" r="2.4"/><circle cx="211.9" cy="422.2" r="2.4"/><circle cx="211.6" cy="420.5" r="2.4"/><circle cx="212.2" cy="419.2" r="2.4"/><circle cx="212.6" cy="417.6" r="2.4"/><circle cx="211.8" cy="416.1" r="2.4"/><circle cx="211.4" cy="414.9" r="2.4"/><circle cx="212.4" cy="413.3" r="2.4"/><circle cx="211.5" cy="411.7" r="2.4"/><circle cx="212.7" cy="410.4" r="2.4"/><circle cx="211.4" cy="409.0" r="2.4"/><circle cx="212.9" cy="407.7" r="2.4"/><circle cx="211.5" cy="406.6" r="2.4"/><circle cx="212.5" cy="405.4" r="2.4"/><circle cx="211.4" cy="403.7" r="2.4"/><circle cx="211.6" cy="402.7" r="2.4"/><circle cx="212.2" cy="401.5" r="2.4"/><circle cx="211.8" cy="400.5" r="2.4"/><circle cx="213.1" cy="399.4" r="2.4"/><circle cx="211.3" cy="397.8" r="2.4"/><circle cx="211.3" cy="396.1" r="2.4"/><circle cx="213.1" cy="394.8" r="2.4"/><circle cx="212.6" cy="393.2" r="2.4"/><circle cx="211.5" cy="391.9" r="2.4"/><circle cx="211.3" cy="390.2" r="2.4"/><circle cx="211.9" cy="389.0" r="2.4"/><circle cx="211.9" cy="387.8" r="2.4"/><circle cx="212.5" cy="386.0" r="2.4"/><circle cx="212.4" cy="384.5" r="2.4"/><circle cx="211.5" cy="381.0" r="2.4"/><circle cx="211.9" cy="377.8" r="2.4"/><circle cx="212.6" cy="377.0" r="2.4"/><circle cx="212.1" cy="322.3" r="2.4"/><circle cx="212.2" cy="339.0" r="2.4"/><circle cx="212.4" cy="344.3" r="2.4"/><circle cx="212.0" cy="353.8" r="2.4"/><circle cx="211.8" cy="372.7" r="2.4"/><circle cx="221.6" cy="428.4" r="2.4"/><circle cx="221.7" cy="426.1" r="2.4"/><circle cx="221.9" cy="423.9" r="2.4"/><circle cx="221.5" cy="422.4" r="2.4"/><circle cx="220.8" cy="421.1" r="2.4"/><circle cx="220.4" cy="419.7" r="2.4"/><circle cx="221.8" cy="418.4" r="2.4"/><circle cx="221.4" cy="416.8" r="2.4"/><circle cx="221.0" cy="415.7" r="2.4"/><circle cx="221.4" cy="414.4" r="2.4"/><circle cx="221.5" cy="413.1" r="2.4"/><circle cx="220.6" cy="411.4" r="2.4"/><circle cx="221.7" cy="409.9" r="2.4"/><circle cx="221.2" cy="408.7" r="2.4"/><circle cx="220.3" cy="406.9" r="2.4"/><circle cx="220.5" cy="405.5" r="2.4"/><circle cx="222.1" cy="403.9" r="2.4"/><circle cx="220.4" cy="402.5" r="2.4"/><circle cx="221.3" cy="401.1" r="2.4"/><circle cx="221.2" cy="399.6" r="2.4"/><circle cx="221.8" cy="398.1" r="2.4"/><circle cx="221.0" cy="396.7" r="2.4"/><circle cx="220.6" cy="394.8" r="2.4"/><circle cx="221.0" cy="393.0" r="2.4"/><circle cx="220.4" cy="391.3" r="2.4"/><circle cx="220.9" cy="389.3" r="2.4"/><circle cx="220.7" cy="388.1" r="2.4"/><circle cx="220.3" cy="385.5" r="2.4"/><circle cx="221.0" cy="382.6" r="2.4"/><circle cx="221.0" cy="381.0" r="2.4"/><circle cx="221.0" cy="327.0" r="2.4"/><circle cx="220.9" cy="354.8" r="2.4"/><circle cx="221.4" cy="365.4" r="2.4"/><circle cx="221.6" cy="367.5" r="2.4"/><circle cx="221.2" cy="374.9" r="2.4"/><circle cx="229.7" cy="428.4" r="2.4"/><circle cx="230.0" cy="426.2" r="2.4"/><circle cx="229.5" cy="424.4" r="2.4"/><circle cx="230.9" cy="422.8" r="2.4"/><circle cx="230.2" cy="421.3" r="2.4"/><circle cx="229.7" cy="419.9" r="2.4"/><circle cx="230.0" cy="418.1" r="2.4"/><circle cx="230.9" cy="416.7" r="2.4"/><circle cx="230.2" cy="415.0" r="2.4"/><circle cx="230.4" cy="413.9" r="2.4"/><circle cx="230.9" cy="412.9" r="2.4"/><circle cx="231.0" cy="411.6" r="2.4"/><circle cx="230.0" cy="410.5" r="2.4"/><circle cx="230.1" cy="409.4" r="2.4"/><circle cx="229.3" cy="408.3" r="2.4"/><circle cx="229.8" cy="406.8" r="2.4"/><circle cx="229.9" cy="405.6" r="2.4"/><circle cx="230.1" cy="404.3" r="2.4"/><circle cx="230.6" cy="402.8" r="2.4"/><circle cx="231.1" cy="401.6" r="2.4"/><circle cx="229.4" cy="399.7" r="2.4"/><circle cx="231.1" cy="397.9" r="2.4"/><circle cx="229.5" cy="396.1" r="2.4"/><circle cx="230.5" cy="394.2" r="2.4"/><circle cx="229.3" cy="393.1" r="2.4"/><circle cx="230.5" cy="389.7" r="2.4"/><circle cx="229.8" cy="387.5" r="2.4"/><circle cx="229.9" cy="349.5" r="2.4"/><circle cx="230.0" cy="315.3" r="2.4"/><circle cx="230.5" cy="291.5" r="2.4"/><circle cx="239.0" cy="428.4" r="2.4"/><circle cx="240.1" cy="426.7" r="2.4"/><circle cx="238.7" cy="424.4" r="2.4"/><circle cx="239.5" cy="422.7" r="2.4"/><circle cx="239.7" cy="421.1" r="2.4"/><circle cx="239.9" cy="419.4" r="2.4"/><circle cx="238.7" cy="417.8" r="2.4"/><circle cx="239.4" cy="416.3" r="2.4"/><circle cx="239.2" cy="414.7" r="2.4"/><circle cx="239.4" cy="413.0" r="2.4"/><circle cx="238.8" cy="411.9" r="2.4"/><circle cx="239.3" cy="410.8" r="2.4"/><circle cx="239.3" cy="409.9" r="2.4"/><circle cx="239.3" cy="408.8" r="2.4"/><circle cx="239.4" cy="407.5" r="2.4"/><circle cx="238.3" cy="405.8" r="2.4"/><circle cx="239.3" cy="404.2" r="2.4"/><circle cx="239.7" cy="402.8" r="2.4"/><circle cx="239.1" cy="401.1" r="2.4"/><circle cx="240.2" cy="399.8" r="2.4"/><circle cx="239.6" cy="398.9" r="2.4"/><circle cx="238.4" cy="397.4" r="2.4"/><circle cx="239.7" cy="395.9" r="2.4"/><circle cx="239.0" cy="394.2" r="2.4"/><circle cx="239.3" cy="392.4" r="2.4"/><circle cx="240.1" cy="391.1" r="2.4"/><circle cx="239.8" cy="390.1" r="2.4"/><circle cx="239.0" cy="388.7" r="2.4"/><circle cx="239.1" cy="387.0" r="2.4"/><circle cx="239.4" cy="385.7" r="2.4"/><circle cx="238.7" cy="384.1" r="2.4"/><circle cx="239.2" cy="382.8" r="2.4"/><circle cx="240.0" cy="381.4" r="2.4"/><circle cx="240.0" cy="380.2" r="2.4"/><circle cx="239.3" cy="379.0" r="2.4"/><circle cx="239.3" cy="377.8" r="2.4"/><circle cx="239.6" cy="376.1" r="2.4"/><circle cx="239.0" cy="374.4" r="2.4"/><circle cx="238.9" cy="373.3" r="2.4"/><circle cx="239.6" cy="371.8" r="2.4"/><circle cx="238.4" cy="370.0" r="2.4"/><circle cx="240.1" cy="368.3" r="2.4"/><circle cx="238.4" cy="366.7" r="2.4"/><circle cx="238.3" cy="365.3" r="2.4"/><circle cx="240.2" cy="364.0" r="2.4"/><circle cx="239.6" cy="362.4" r="2.4"/><circle cx="240.1" cy="360.0" r="2.4"/><circle cx="239.5" cy="356.8" r="2.4"/><circle cx="239.7" cy="352.9" r="2.4"/><circle cx="239.6" cy="348.4" r="2.4"/><circle cx="239.6" cy="344.1" r="2.4"/><circle cx="239.8" cy="338.3" r="2.4"/><circle cx="238.8" cy="332.7" r="2.4"/><circle cx="239.7" cy="328.4" r="2.4"/><circle cx="239.7" cy="257.6" r="2.4"/><circle cx="248.7" cy="428.4" r="2.4"/><circle cx="249.0" cy="426.5" r="2.4"/><circle cx="248.5" cy="424.3" r="2.4"/><circle cx="248.0" cy="423.1" r="2.4"/><circle cx="248.0" cy="421.9" r="2.4"/><circle cx="248.7" cy="420.6" r="2.4"/><circle cx="247.5" cy="418.8" r="2.4"/><circle cx="247.5" cy="417.4" r="2.4"/><circle cx="249.0" cy="416.4" r="2.4"/><circle cx="249.2" cy="415.0" r="2.4"/><circle cx="247.4" cy="413.7" r="2.4"/><circle cx="248.6" cy="412.5" r="2.4"/><circle cx="249.4" cy="410.7" r="2.4"/><circle cx="248.2" cy="409.4" r="2.4"/><circle cx="248.7" cy="408.4" r="2.4"/><circle cx="247.7" cy="407.3" r="2.4"/><circle cx="247.4" cy="406.4" r="2.4"/><circle cx="247.6" cy="404.9" r="2.4"/><circle cx="247.6" cy="403.1" r="2.4"/><circle cx="247.6" cy="401.4" r="2.4"/><circle cx="248.8" cy="400.5" r="2.4"/><circle cx="248.9" cy="399.4" r="2.4"/><circle cx="247.5" cy="398.3" r="2.4"/><circle cx="248.8" cy="396.7" r="2.4"/><circle cx="248.9" cy="395.0" r="2.4"/><circle cx="248.6" cy="394.1" r="2.4"/><circle cx="248.3" cy="392.5" r="2.4"/><circle cx="247.9" cy="390.8" r="2.4"/><circle cx="248.8" cy="389.0" r="2.4"/><circle cx="247.4" cy="388.1" r="2.4"/><circle cx="249.0" cy="386.6" r="2.4"/><circle cx="248.0" cy="385.7" r="2.4"/><circle cx="247.7" cy="384.1" r="2.4"/><circle cx="248.4" cy="382.4" r="2.4"/><circle cx="248.1" cy="381.5" r="2.4"/><circle cx="248.3" cy="380.1" r="2.4"/><circle cx="247.7" cy="378.5" r="2.4"/><circle cx="248.1" cy="376.9" r="2.4"/><circle cx="248.7" cy="375.4" r="2.4"/><circle cx="248.2" cy="374.2" r="2.4"/><circle cx="249.3" cy="372.6" r="2.4"/><circle cx="248.5" cy="371.0" r="2.4"/><circle cx="247.5" cy="369.8" r="2.4"/><circle cx="248.8" cy="368.0" r="2.4"/><circle cx="248.1" cy="366.4" r="2.4"/><circle cx="249.3" cy="364.7" r="2.4"/><circle cx="248.6" cy="362.9" r="2.4"/><circle cx="248.2" cy="361.5" r="2.4"/><circle cx="248.1" cy="359.6" r="2.4"/><circle cx="248.6" cy="358.0" r="2.4"/><circle cx="249.0" cy="355.3" r="2.4"/><circle cx="247.4" cy="353.4" r="2.4"/><circle cx="248.2" cy="351.5" r="2.4"/><circle cx="249.0" cy="348.0" r="2.4"/><circle cx="247.8" cy="346.0" r="2.4"/><circle cx="248.7" cy="328.4" r="2.4"/><circle cx="257.8" cy="288.6" r="2.4"/><circle cx="257.8" cy="369.6" r="2.4"/><circle cx="257.5" cy="374.0" r="2.4"/><circle cx="257.2" cy="379.0" r="2.4"/><circle cx="257.8" cy="383.0" r="2.4"/><circle cx="257.8" cy="387.0" r="2.4"/><circle cx="257.6" cy="392.0" r="2.4"/><circle cx="257.9" cy="396.0" r="2.4"/><circle cx="257.3" cy="399.5" r="2.4"/><circle cx="257.0" cy="403.0" r="2.4"/><circle cx="257.5" cy="406.5" r="2.4"/><circle cx="257.8" cy="410.0" r="2.4"/><circle cx="257.2" cy="413.5" r="2.4"/><circle cx="257.7" cy="417.0" r="2.4"/><circle cx="257.9" cy="420.0" r="2.4"/><circle cx="257.2" cy="423.0" r="2.4"/><circle cx="257.6" cy="426.0" r="2.4"/><circle cx="257.6" cy="429.0" r="2.4"/><circle cx="266.5" cy="427.9" r="2.4"/><circle cx="266.0" cy="426.1" r="2.4"/><circle cx="267.1" cy="423.9" r="2.4"/><circle cx="265.7" cy="422.6" r="2.4"/><circle cx="267.1" cy="421.0" r="2.4"/><circle cx="266.7" cy="419.9" r="2.4"/><circle cx="267.3" cy="418.2" r="2.4"/><circle cx="266.5" cy="416.8" r="2.4"/><circle cx="265.9" cy="415.4" r="2.4"/><circle cx="265.9" cy="414.3" r="2.4"/><circle cx="266.3" cy="412.8" r="2.4"/><circle cx="266.3" cy="411.4" r="2.4"/><circle cx="265.8" cy="410.0" r="2.4"/><circle cx="267.5" cy="409.1" r="2.4"/><circle cx="265.7" cy="407.8" r="2.4"/><circle cx="267.1" cy="406.4" r="2.4"/><circle cx="266.7" cy="405.3" r="2.4"/><circle cx="266.6" cy="403.9" r="2.4"/><circle cx="265.6" cy="402.8" r="2.4"/><circle cx="267.3" cy="400.8" r="2.4"/><circle cx="266.7" cy="399.3" r="2.4"/><circle cx="267.1" cy="397.9" r="2.4"/><circle cx="267.4" cy="396.4" r="2.4"/><circle cx="267.1" cy="394.0" r="2.4"/><circle cx="266.1" cy="390.2" r="2.4"/><circle cx="266.0" cy="387.4" r="2.4"/><circle cx="266.0" cy="386.0" r="2.4"/><circle cx="266.1" cy="374.0" r="2.4"/><circle cx="266.6" cy="376.5" r="2.4"/><circle cx="276.3" cy="426.7" r="2.4"/><circle cx="276.5" cy="424.7" r="2.4"/><circle cx="274.7" cy="422.4" r="2.4"/><circle cx="275.4" cy="421.0" r="2.4"/><circle cx="276.5" cy="420.0" r="2.4"/><circle cx="275.7" cy="418.8" r="2.4"/><circle cx="276.5" cy="417.4" r="2.4"/><circle cx="275.4" cy="415.8" r="2.4"/><circle cx="274.9" cy="414.5" r="2.4"/><circle cx="276.6" cy="412.8" r="2.4"/><circle cx="274.7" cy="411.7" r="2.4"/><circle cx="275.3" cy="410.5" r="2.4"/><circle cx="276.4" cy="408.8" r="2.4"/><circle cx="274.7" cy="407.2" r="2.4"/><circle cx="276.0" cy="405.6" r="2.4"/><circle cx="276.6" cy="404.1" r="2.4"/><circle cx="274.9" cy="403.1" r="2.4"/><circle cx="276.5" cy="401.6" r="2.4"/><circle cx="275.2" cy="400.1" r="2.4"/><circle cx="276.1" cy="398.6" r="2.4"/><circle cx="275.2" cy="397.6" r="2.4"/><circle cx="274.8" cy="396.5" r="2.4"/><circle cx="274.9" cy="395.2" r="2.4"/><circle cx="274.9" cy="394.0" r="2.4"/><circle cx="274.6" cy="392.3" r="2.4"/><circle cx="275.0" cy="390.6" r="2.4"/><circle cx="276.5" cy="389.5" r="2.4"/><circle cx="276.5" cy="388.2" r="2.4"/><circle cx="276.4" cy="386.3" r="2.4"/><circle cx="275.5" cy="385.1" r="2.4"/><circle cx="276.4" cy="383.0" r="2.4"/><circle cx="275.8" cy="379.4" r="2.4"/><circle cx="275.4" cy="376.0" r="2.4"/><circle cx="275.9" cy="199.9" r="2.4"/><circle cx="275.6" cy="268.6" r="2.4"/><circle cx="275.7" cy="279.4" r="2.4"/><circle cx="275.2" cy="303.9" r="2.4"/><circle cx="275.3" cy="319.0" r="2.4"/><circle cx="275.2" cy="322.0" r="2.4"/><circle cx="275.8" cy="338.0" r="2.4"/><circle cx="275.6" cy="342.0" r="2.4"/><circle cx="275.2" cy="351.0" r="2.4"/><circle cx="276.0" cy="354.0" r="2.4"/><circle cx="275.4" cy="361.6" r="2.4"/><circle cx="275.5" cy="363.5" r="2.4"/><circle cx="275.3" cy="370.0" r="2.4"/><circle cx="284.2" cy="430.4" r="2.4"/><circle cx="284.3" cy="428.1" r="2.4"/><circle cx="284.6" cy="426.4" r="2.4"/><circle cx="285.5" cy="425.2" r="2.4"/><circle cx="285.6" cy="424.2" r="2.4"/><circle cx="285.5" cy="423.3" r="2.4"/><circle cx="284.1" cy="421.8" r="2.4"/><circle cx="284.2" cy="420.4" r="2.4"/><circle cx="284.1" cy="419.3" r="2.4"/><circle cx="285.6" cy="418.1" r="2.4"/><circle cx="285.5" cy="416.3" r="2.4"/><circle cx="284.2" cy="415.3" r="2.4"/><circle cx="283.8" cy="413.6" r="2.4"/><circle cx="284.3" cy="412.0" r="2.4"/><circle cx="283.7" cy="410.2" r="2.4"/><circle cx="284.3" cy="408.6" r="2.4"/><circle cx="283.7" cy="407.6" r="2.4"/><circle cx="284.7" cy="405.9" r="2.4"/><circle cx="284.5" cy="404.9" r="2.4"/><circle cx="284.1" cy="403.1" r="2.4"/><circle cx="283.9" cy="401.7" r="2.4"/><circle cx="285.2" cy="400.5" r="2.4"/><circle cx="284.1" cy="398.7" r="2.4"/><circle cx="283.8" cy="397.6" r="2.4"/><circle cx="284.7" cy="395.9" r="2.4"/><circle cx="284.1" cy="394.6" r="2.4"/><circle cx="285.1" cy="392.9" r="2.4"/><circle cx="284.8" cy="390.0" r="2.4"/><circle cx="283.9" cy="387.4" r="2.4"/><circle cx="284.6" cy="385.0" r="2.4"/><circle cx="284.9" cy="310.3" r="2.4"/><circle cx="284.2" cy="320.0" r="2.4"/><circle cx="285.0" cy="327.7" r="2.4"/><circle cx="284.5" cy="337.4" r="2.4"/><circle cx="285.0" cy="345.0" r="2.4"/><circle cx="285.0" cy="348.0" r="2.4"/><circle cx="284.7" cy="364.5" r="2.4"/><circle cx="284.2" cy="367.0" r="2.4"/><circle cx="294.6" cy="426.7" r="2.4"/><circle cx="294.5" cy="424.7" r="2.4"/><circle cx="293.1" cy="422.9" r="2.4"/><circle cx="293.5" cy="421.3" r="2.4"/><circle cx="293.5" cy="420.2" r="2.4"/><circle cx="292.7" cy="418.8" r="2.4"/><circle cx="293.6" cy="417.4" r="2.4"/><circle cx="293.0" cy="416.0" r="2.4"/><circle cx="294.4" cy="414.5" r="2.4"/><circle cx="293.4" cy="412.8" r="2.4"/><circle cx="293.5" cy="411.3" r="2.4"/><circle cx="292.9" cy="409.7" r="2.4"/><circle cx="294.6" cy="408.0" r="2.4"/><circle cx="293.8" cy="406.7" r="2.4"/><circle cx="293.8" cy="405.3" r="2.4"/><circle cx="294.7" cy="404.4" r="2.4"/><circle cx="293.1" cy="403.3" r="2.4"/><circle cx="293.2" cy="402.3" r="2.4"/><circle cx="292.8" cy="400.6" r="2.4"/><circle cx="294.1" cy="399.7" r="2.4"/><circle cx="292.8" cy="398.6" r="2.4"/><circle cx="293.9" cy="397.1" r="2.4"/><circle cx="294.1" cy="395.8" r="2.4"/><circle cx="294.5" cy="394.8" r="2.4"/><circle cx="292.8" cy="393.2" r="2.4"/><circle cx="293.7" cy="392.2" r="2.4"/><circle cx="293.3" cy="390.9" r="2.4"/><circle cx="293.5" cy="389.9" r="2.4"/><circle cx="293.9" cy="388.8" r="2.4"/><circle cx="293.0" cy="387.2" r="2.4"/><circle cx="294.2" cy="385.8" r="2.4"/><circle cx="294.4" cy="384.7" r="2.4"/><circle cx="293.5" cy="383.0" r="2.4"/><circle cx="294.4" cy="381.7" r="2.4"/><circle cx="293.5" cy="380.3" r="2.4"/><circle cx="294.3" cy="378.6" r="2.4"/><circle cx="293.2" cy="377.4" r="2.4"/><circle cx="293.6" cy="376.2" r="2.4"/><circle cx="294.3" cy="374.4" r="2.4"/><circle cx="294.4" cy="372.7" r="2.4"/><circle cx="292.8" cy="371.0" r="2.4"/><circle cx="294.6" cy="369.6" r="2.4"/><circle cx="293.2" cy="367.9" r="2.4"/><circle cx="294.0" cy="366.6" r="2.4"/><circle cx="293.8" cy="365.4" r="2.4"/><circle cx="293.6" cy="364.4" r="2.4"/><circle cx="292.8" cy="363.1" r="2.4"/><circle cx="294.7" cy="362.0" r="2.4"/><circle cx="294.6" cy="360.4" r="2.4"/><circle cx="294.4" cy="359.0" r="2.4"/><circle cx="294.5" cy="357.3" r="2.4"/><circle cx="294.0" cy="356.3" r="2.4"/><circle cx="294.1" cy="355.2" r="2.4"/><circle cx="293.8" cy="354.1" r="2.4"/><circle cx="294.0" cy="352.3" r="2.4"/><circle cx="293.8" cy="351.2" r="2.4"/><circle cx="294.6" cy="349.9" r="2.4"/><circle cx="293.3" cy="348.7" r="2.4"/><circle cx="293.0" cy="347.3" r="2.4"/><circle cx="294.6" cy="345.8" r="2.4"/><circle cx="293.3" cy="344.5" r="2.4"/><circle cx="293.8" cy="343.1" r="2.4"/><circle cx="293.0" cy="342.1" r="2.4"/><circle cx="293.3" cy="341.1" r="2.4"/><circle cx="293.3" cy="339.8" r="2.4"/><circle cx="292.9" cy="338.7" r="2.4"/><circle cx="294.4" cy="337.3" r="2.4"/><circle cx="293.9" cy="335.9" r="2.4"/><circle cx="293.1" cy="334.4" r="2.4"/><circle cx="293.7" cy="332.8" r="2.4"/><circle cx="294.0" cy="331.4" r="2.4"/><circle cx="293.4" cy="330.1" r="2.4"/><circle cx="293.2" cy="329.0" r="2.4"/><circle cx="293.5" cy="327.6" r="2.4"/><circle cx="292.8" cy="326.2" r="2.4"/><circle cx="294.5" cy="325.0" r="2.4"/><circle cx="293.8" cy="323.9" r="2.4"/><circle cx="293.3" cy="322.3" r="2.4"/><circle cx="293.3" cy="320.4" r="2.4"/><circle cx="293.0" cy="318.6" r="2.4"/><circle cx="294.5" cy="317.4" r="2.4"/><circle cx="292.9" cy="315.9" r="2.4"/><circle cx="293.7" cy="276.6" r="2.4"/><circle cx="294.0" cy="296.7" r="2.4"/><circle cx="293.3" cy="315.3" r="2.4"/><circle cx="293.5" cy="319.7" r="2.4"/><circle cx="303.7" cy="428.4" r="2.4"/><circle cx="302.1" cy="426.2" r="2.4"/><circle cx="302.5" cy="424.3" r="2.4"/><circle cx="303.0" cy="422.8" r="2.4"/><circle cx="303.4" cy="421.2" r="2.4"/><circle cx="303.3" cy="419.8" r="2.4"/><circle cx="303.3" cy="418.2" r="2.4"/><circle cx="303.4" cy="416.9" r="2.4"/><circle cx="303.6" cy="415.4" r="2.4"/><circle cx="303.5" cy="414.4" r="2.4"/><circle cx="303.3" cy="413.4" r="2.4"/><circle cx="302.8" cy="412.0" r="2.4"/><circle cx="302.9" cy="410.3" r="2.4"/><circle cx="303.4" cy="409.0" r="2.4"/><circle cx="303.0" cy="407.3" r="2.4"/><circle cx="302.7" cy="406.1" r="2.4"/><circle cx="303.2" cy="404.7" r="2.4"/><circle cx="302.6" cy="403.6" r="2.4"/><circle cx="302.6" cy="402.2" r="2.4"/><circle cx="303.4" cy="401.0" r="2.4"/><circle cx="302.8" cy="399.3" r="2.4"/><circle cx="302.2" cy="398.0" r="2.4"/><circle cx="302.1" cy="396.8" r="2.4"/><circle cx="303.0" cy="395.4" r="2.4"/><circle cx="303.6" cy="394.5" r="2.4"/><circle cx="303.5" cy="393.3" r="2.4"/><circle cx="303.7" cy="391.6" r="2.4"/><circle cx="302.7" cy="390.5" r="2.4"/><circle cx="301.8" cy="388.8" r="2.4"/><circle cx="302.9" cy="387.9" r="2.4"/><circle cx="303.6" cy="386.5" r="2.4"/><circle cx="302.9" cy="384.9" r="2.4"/><circle cx="302.8" cy="383.1" r="2.4"/><circle cx="303.2" cy="381.8" r="2.4"/><circle cx="302.5" cy="380.3" r="2.4"/><circle cx="302.5" cy="378.7" r="2.4"/><circle cx="303.2" cy="376.7" r="2.4"/><circle cx="302.0" cy="375.1" r="2.4"/><circle cx="302.6" cy="373.7" r="2.4"/><circle cx="302.9" cy="371.0" r="2.4"/><circle cx="303.6" cy="367.3" r="2.4"/><circle cx="302.7" cy="363.8" r="2.4"/><circle cx="303.7" cy="359.2" r="2.4"/><circle cx="302.9" cy="354.6" r="2.4"/><circle cx="302.4" cy="352.0" r="2.4"/><circle cx="302.6" cy="315.3" r="2.4"/><circle cx="303.3" cy="338.0" r="2.4"/><circle cx="303.1" cy="348.0" r="2.4"/><circle cx="302.8" cy="361.6" r="2.4"/><circle cx="311.1" cy="427.4" r="2.4"/><circle cx="312.2" cy="425.1" r="2.4"/><circle cx="312.8" cy="422.8" r="2.4"/><circle cx="311.7" cy="421.1" r="2.4"/><circle cx="311.4" cy="420.1" r="2.4"/><circle cx="311.9" cy="418.7" r="2.4"/><circle cx="311.2" cy="417.7" r="2.4"/><circle cx="312.1" cy="416.2" r="2.4"/><circle cx="312.9" cy="415.0" r="2.4"/><circle cx="311.0" cy="413.5" r="2.4"/><circle cx="312.4" cy="412.2" r="2.4"/><circle cx="312.2" cy="411.1" r="2.4"/><circle cx="311.5" cy="410.2" r="2.4"/><circle cx="312.0" cy="408.5" r="2.4"/><circle cx="311.3" cy="407.0" r="2.4"/><circle cx="312.0" cy="405.6" r="2.4"/><circle cx="312.2" cy="404.5" r="2.4"/><circle cx="312.9" cy="403.1" r="2.4"/><circle cx="311.7" cy="401.7" r="2.4"/><circle cx="311.2" cy="400.7" r="2.4"/><circle cx="311.1" cy="399.1" r="2.4"/><circle cx="311.2" cy="398.1" r="2.4"/><circle cx="312.5" cy="396.8" r="2.4"/><circle cx="312.5" cy="395.3" r="2.4"/><circle cx="310.9" cy="394.3" r="2.4"/><circle cx="311.5" cy="392.8" r="2.4"/><circle cx="311.6" cy="391.2" r="2.4"/><circle cx="311.4" cy="390.2" r="2.4"/><circle cx="312.7" cy="389.2" r="2.4"/><circle cx="311.6" cy="387.7" r="2.4"/><circle cx="311.6" cy="386.4" r="2.4"/><circle cx="312.6" cy="385.5" r="2.4"/><circle cx="312.8" cy="384.1" r="2.4"/><circle cx="312.1" cy="382.8" r="2.4"/><circle cx="311.0" cy="381.6" r="2.4"/><circle cx="312.6" cy="379.9" r="2.4"/><circle cx="312.7" cy="378.7" r="2.4"/><circle cx="311.5" cy="377.1" r="2.4"/><circle cx="312.8" cy="375.6" r="2.4"/><circle cx="312.8" cy="374.3" r="2.4"/><circle cx="311.6" cy="373.2" r="2.4"/><circle cx="311.3" cy="371.6" r="2.4"/><circle cx="312.6" cy="370.5" r="2.4"/><circle cx="312.5" cy="369.1" r="2.4"/><circle cx="311.2" cy="368.0" r="2.4"/><circle cx="311.2" cy="366.8" r="2.4"/><circle cx="311.4" cy="365.0" r="2.4"/><circle cx="311.1" cy="363.4" r="2.4"/><circle cx="311.6" cy="361.8" r="2.4"/><circle cx="311.0" cy="360.4" r="2.4"/><circle cx="312.5" cy="359.1" r="2.4"/><circle cx="311.4" cy="357.7" r="2.4"/><circle cx="311.5" cy="354.7" r="2.4"/><circle cx="311.0" cy="352.0" r="2.4"/><circle cx="311.6" cy="348.1" r="2.4"/><circle cx="312.2" cy="344.6" r="2.4"/><circle cx="311.5" cy="340.6" r="2.4"/><circle cx="311.2" cy="333.6" r="2.4"/><circle cx="312.5" cy="326.8" r="2.4"/><circle cx="311.5" cy="326.0" r="2.4"/><circle cx="311.7" cy="262.0" r="2.4"/><circle cx="312.1" cy="310.6" r="2.4"/><circle cx="311.7" cy="315.3" r="2.4"/><circle cx="312.3" cy="321.5" r="2.4"/><circle cx="320.4" cy="427.4" r="2.4"/><circle cx="320.9" cy="425.0" r="2.4"/><circle cx="320.8" cy="423.3" r="2.4"/><circle cx="321.3" cy="422.2" r="2.4"/><circle cx="321.7" cy="421.1" r="2.4"/><circle cx="320.7" cy="419.7" r="2.4"/><circle cx="321.2" cy="418.6" r="2.4"/><circle cx="321.7" cy="417.5" r="2.4"/><circle cx="321.0" cy="416.5" r="2.4"/><circle cx="320.5" cy="415.1" r="2.4"/><circle cx="320.7" cy="413.5" r="2.4"/><circle cx="321.1" cy="412.0" r="2.4"/><circle cx="320.7" cy="410.8" r="2.4"/><circle cx="320.3" cy="409.6" r="2.4"/><circle cx="320.6" cy="407.8" r="2.4"/><circle cx="320.2" cy="406.1" r="2.4"/><circle cx="320.7" cy="404.5" r="2.4"/><circle cx="320.5" cy="402.9" r="2.4"/><circle cx="320.6" cy="401.7" r="2.4"/><circle cx="320.3" cy="399.0" r="2.4"/><circle cx="320.7" cy="396.0" r="2.4"/><circle cx="320.8" cy="315.0" r="2.4"/><circle cx="321.3" cy="338.4" r="2.4"/><circle cx="321.2" cy="361.6" r="2.4"/><circle cx="321.3" cy="373.0" r="2.4"/><circle cx="321.3" cy="385.0" r="2.4"/><circle cx="320.6" cy="387.0" r="2.4"/><circle cx="320.7" cy="390.6" r="2.4"/><circle cx="329.1" cy="427.9" r="2.4"/><circle cx="330.3" cy="425.8" r="2.4"/><circle cx="329.8" cy="423.9" r="2.4"/><circle cx="330.4" cy="422.4" r="2.4"/><circle cx="330.7" cy="421.3" r="2.4"/><circle cx="330.3" cy="420.0" r="2.4"/><circle cx="329.2" cy="419.0" r="2.4"/><circle cx="330.5" cy="417.3" r="2.4"/><circle cx="329.1" cy="415.7" r="2.4"/><circle cx="329.3" cy="414.8" r="2.4"/><circle cx="329.6" cy="413.7" r="2.4"/><circle cx="329.1" cy="412.5" r="2.4"/><circle cx="330.3" cy="411.3" r="2.4"/><circle cx="330.7" cy="410.2" r="2.4"/><circle cx="330.4" cy="408.8" r="2.4"/><circle cx="329.9" cy="407.7" r="2.4"/><circle cx="329.7" cy="406.2" r="2.4"/><circle cx="330.7" cy="405.3" r="2.4"/><circle cx="329.6" cy="403.7" r="2.4"/><circle cx="330.7" cy="402.7" r="2.4"/><circle cx="329.1" cy="401.3" r="2.4"/><circle cx="329.2" cy="400.2" r="2.4"/><circle cx="329.4" cy="398.5" r="2.4"/><circle cx="330.5" cy="396.8" r="2.4"/><circle cx="330.4" cy="395.8" r="2.4"/><circle cx="330.5" cy="394.6" r="2.4"/><circle cx="329.6" cy="392.9" r="2.4"/><circle cx="330.9" cy="392.0" r="2.4"/><circle cx="330.9" cy="390.7" r="2.4"/><circle cx="330.5" cy="389.2" r="2.4"/><circle cx="330.3" cy="387.5" r="2.4"/><circle cx="329.1" cy="386.2" r="2.4"/><circle cx="329.9" cy="384.7" r="2.4"/><circle cx="330.9" cy="383.3" r="2.4"/><circle cx="330.5" cy="382.3" r="2.4"/><circle cx="330.4" cy="381.4" r="2.4"/><circle cx="329.5" cy="379.7" r="2.4"/><circle cx="330.9" cy="378.3" r="2.4"/><circle cx="330.1" cy="376.9" r="2.4"/><circle cx="329.1" cy="375.7" r="2.4"/><circle cx="329.8" cy="374.5" r="2.4"/><circle cx="329.6" cy="373.4" r="2.4"/><circle cx="330.4" cy="372.4" r="2.4"/><circle cx="329.5" cy="370.9" r="2.4"/><circle cx="330.0" cy="369.8" r="2.4"/><circle cx="330.9" cy="368.5" r="2.4"/><circle cx="329.6" cy="367.1" r="2.4"/><circle cx="329.3" cy="365.2" r="2.4"/><circle cx="329.7" cy="363.6" r="2.4"/><circle cx="330.1" cy="361.7" r="2.4"/><circle cx="329.3" cy="360.0" r="2.4"/><circle cx="330.2" cy="357.0" r="2.4"/><circle cx="330.5" cy="354.0" r="2.4"/><circle cx="329.3" cy="349.8" r="2.4"/><circle cx="329.8" cy="345.9" r="2.4"/><circle cx="329.2" cy="341.6" r="2.4"/><circle cx="329.5" cy="336.4" r="2.4"/><circle cx="329.9" cy="334.0" r="2.4"/><circle cx="329.6" cy="315.6" r="2.4"/><circle cx="338.7" cy="428.4" r="2.4"/><circle cx="338.8" cy="426.4" r="2.4"/><circle cx="338.2" cy="424.7" r="2.4"/><circle cx="340.1" cy="423.8" r="2.4"/><circle cx="338.2" cy="422.2" r="2.4"/><circle cx="340.0" cy="420.7" r="2.4"/><circle cx="338.3" cy="419.3" r="2.4"/><circle cx="338.9" cy="417.9" r="2.4"/><circle cx="339.2" cy="416.8" r="2.4"/><circle cx="339.9" cy="415.9" r="2.4"/><circle cx="339.3" cy="414.5" r="2.4"/><circle cx="339.4" cy="412.7" r="2.4"/><circle cx="338.6" cy="411.6" r="2.4"/><circle cx="338.1" cy="410.6" r="2.4"/><circle cx="339.8" cy="409.0" r="2.4"/><circle cx="338.4" cy="407.8" r="2.4"/><circle cx="339.8" cy="406.3" r="2.4"/><circle cx="338.4" cy="404.6" r="2.4"/><circle cx="339.7" cy="403.0" r="2.4"/><circle cx="338.7" cy="401.4" r="2.4"/><circle cx="339.7" cy="400.3" r="2.4"/><circle cx="338.8" cy="399.2" r="2.4"/><circle cx="338.8" cy="397.8" r="2.4"/><circle cx="338.6" cy="396.1" r="2.4"/><circle cx="339.2" cy="395.2" r="2.4"/><circle cx="339.7" cy="393.7" r="2.4"/><circle cx="339.9" cy="392.2" r="2.4"/><circle cx="339.1" cy="390.4" r="2.4"/><circle cx="338.4" cy="389.1" r="2.4"/><circle cx="339.2" cy="387.9" r="2.4"/><circle cx="339.4" cy="386.9" r="2.4"/><circle cx="339.0" cy="385.9" r="2.4"/><circle cx="338.3" cy="384.1" r="2.4"/><circle cx="339.0" cy="383.2" r="2.4"/><circle cx="339.5" cy="382.1" r="2.4"/><circle cx="339.8" cy="381.2" r="2.4"/><circle cx="339.6" cy="379.5" r="2.4"/><circle cx="338.6" cy="378.3" r="2.4"/><circle cx="339.1" cy="376.8" r="2.4"/><circle cx="338.7" cy="375.5" r="2.4"/><circle cx="339.4" cy="374.2" r="2.4"/><circle cx="339.9" cy="372.5" r="2.4"/><circle cx="338.7" cy="371.5" r="2.4"/><circle cx="339.2" cy="370.2" r="2.4"/><circle cx="338.5" cy="369.0" r="2.4"/><circle cx="338.7" cy="368.0" r="2.4"/><circle cx="340.0" cy="366.7" r="2.4"/><circle cx="339.8" cy="365.0" r="2.4"/><circle cx="340.0" cy="363.2" r="2.4"/><circle cx="339.7" cy="361.7" r="2.4"/><circle cx="339.4" cy="360.8" r="2.4"/><circle cx="338.7" cy="359.3" r="2.4"/><circle cx="340.0" cy="357.9" r="2.4"/><circle cx="339.4" cy="356.6" r="2.4"/><circle cx="338.8" cy="355.4" r="2.4"/><circle cx="338.1" cy="353.7" r="2.4"/><circle cx="339.4" cy="352.7" r="2.4"/><circle cx="338.2" cy="351.4" r="2.4"/><circle cx="338.8" cy="349.9" r="2.4"/><circle cx="338.9" cy="348.4" r="2.4"/><circle cx="339.2" cy="347.1" r="2.4"/><circle cx="338.3" cy="345.8" r="2.4"/><circle cx="339.9" cy="344.7" r="2.4"/><circle cx="338.3" cy="343.3" r="2.4"/><circle cx="338.6" cy="341.7" r="2.4"/><circle cx="339.1" cy="340.7" r="2.4"/><circle cx="339.1" cy="339.6" r="2.4"/><circle cx="338.5" cy="338.2" r="2.4"/><circle cx="338.3" cy="336.7" r="2.4"/><circle cx="339.2" cy="335.4" r="2.4"/><circle cx="338.9" cy="334.4" r="2.4"/><circle cx="339.0" cy="333.4" r="2.4"/><circle cx="339.2" cy="331.8" r="2.4"/><circle cx="339.6" cy="330.2" r="2.4"/><circle cx="340.1" cy="329.2" r="2.4"/><circle cx="338.3" cy="327.5" r="2.4"/><circle cx="338.9" cy="325.6" r="2.4"/><circle cx="340.0" cy="324.4" r="2.4"/><circle cx="339.6" cy="322.8" r="2.4"/><circle cx="339.6" cy="321.5" r="2.4"/><circle cx="338.5" cy="320.4" r="2.4"/><circle cx="338.6" cy="251.9" r="2.4"/><circle cx="339.2" cy="263.1" r="2.4"/><circle cx="338.8" cy="280.0" r="2.4"/><circle cx="338.9" cy="290.5" r="2.4"/><circle cx="348.6" cy="425.4" r="2.4"/><circle cx="348.9" cy="423.5" r="2.4"/><circle cx="348.9" cy="421.4" r="2.4"/><circle cx="349.0" cy="420.0" r="2.4"/><circle cx="347.5" cy="418.3" r="2.4"/><circle cx="347.8" cy="416.7" r="2.4"/><circle cx="348.5" cy="415.1" r="2.4"/><circle cx="347.4" cy="413.5" r="2.4"/><circle cx="348.6" cy="412.2" r="2.4"/><circle cx="348.6" cy="410.5" r="2.4"/><circle cx="348.3" cy="409.5" r="2.4"/><circle cx="348.2" cy="408.6" r="2.4"/><circle cx="347.4" cy="406.9" r="2.4"/><circle cx="348.5" cy="405.2" r="2.4"/><circle cx="347.5" cy="404.1" r="2.4"/><circle cx="348.8" cy="402.8" r="2.4"/><circle cx="347.4" cy="401.3" r="2.4"/><circle cx="347.4" cy="400.4" r="2.4"/><circle cx="347.5" cy="398.8" r="2.4"/><circle cx="347.7" cy="397.4" r="2.4"/><circle cx="347.9" cy="395.9" r="2.4"/><circle cx="348.9" cy="394.9" r="2.4"/><circle cx="348.5" cy="393.5" r="2.4"/><circle cx="349.0" cy="391.8" r="2.4"/><circle cx="347.8" cy="390.9" r="2.4"/><circle cx="348.1" cy="389.9" r="2.4"/><circle cx="348.7" cy="388.2" r="2.4"/><circle cx="347.5" cy="387.3" r="2.4"/><circle cx="348.5" cy="385.6" r="2.4"/><circle cx="348.1" cy="384.4" r="2.4"/><circle cx="348.8" cy="383.3" r="2.4"/><circle cx="348.9" cy="382.1" r="2.4"/><circle cx="347.3" cy="380.6" r="2.4"/><circle cx="347.6" cy="379.4" r="2.4"/><circle cx="348.3" cy="377.7" r="2.4"/><circle cx="347.5" cy="376.8" r="2.4"/><circle cx="348.1" cy="375.6" r="2.4"/><circle cx="347.9" cy="374.2" r="2.4"/><circle cx="347.2" cy="372.9" r="2.4"/><circle cx="347.8" cy="371.5" r="2.4"/><circle cx="348.1" cy="370.4" r="2.4"/><circle cx="347.2" cy="368.4" r="2.4"/><circle cx="348.5" cy="367.2" r="2.4"/><circle cx="347.7" cy="365.8" r="2.4"/><circle cx="347.7" cy="364.3" r="2.4"/><circle cx="348.2" cy="338.0" r="2.4"/><circle cx="358.1" cy="427.4" r="2.4"/><circle cx="356.3" cy="425.0" r="2.4"/><circle cx="357.7" cy="423.0" r="2.4"/><circle cx="357.8" cy="421.3" r="2.4"/><circle cx="357.5" cy="419.8" r="2.4"/><circle cx="356.8" cy="418.6" r="2.4"/><circle cx="358.0" cy="417.0" r="2.4"/><circle cx="357.6" cy="415.2" r="2.4"/><circle cx="357.7" cy="414.0" r="2.4"/><circle cx="357.2" cy="412.5" r="2.4"/><circle cx="356.9" cy="411.0" r="2.4"/><circle cx="357.0" cy="409.6" r="2.4"/><circle cx="356.9" cy="408.5" r="2.4"/><circle cx="358.2" cy="407.1" r="2.4"/><circle cx="356.9" cy="405.5" r="2.4"/><circle cx="356.7" cy="404.2" r="2.4"/><circle cx="356.5" cy="402.8" r="2.4"/><circle cx="357.9" cy="401.7" r="2.4"/><circle cx="357.1" cy="400.2" r="2.4"/><circle cx="356.9" cy="398.0" r="2.4"/><circle cx="356.4" cy="395.4" r="2.4"/><circle cx="356.9" cy="392.2" r="2.4"/><circle cx="357.3" cy="390.0" r="2.4"/><circle cx="357.6" cy="277.0" r="2.4"/><circle cx="357.0" cy="385.0" r="2.4"/><circle cx="367.1" cy="427.4" r="2.4"/><circle cx="365.4" cy="425.3" r="2.4"/><circle cx="366.4" cy="423.6" r="2.4"/><circle cx="366.0" cy="421.8" r="2.4"/><circle cx="366.1" cy="420.2" r="2.4"/><circle cx="365.4" cy="418.5" r="2.4"/><circle cx="367.1" cy="417.2" r="2.4"/><circle cx="365.8" cy="416.0" r="2.4"/><circle cx="365.6" cy="415.1" r="2.4"/><circle cx="366.7" cy="414.0" r="2.4"/><circle cx="366.1" cy="412.7" r="2.4"/><circle cx="366.5" cy="411.4" r="2.4"/><circle cx="366.6" cy="409.5" r="2.4"/><circle cx="366.7" cy="408.2" r="2.4"/><circle cx="366.5" cy="406.3" r="2.4"/><circle cx="366.9" cy="405.1" r="2.4"/><circle cx="366.0" cy="402.7" r="2.4"/><circle cx="365.9" cy="401.0" r="2.4"/><circle cx="366.3" cy="296.1" r="2.4"/><circle cx="366.7" cy="364.5" r="2.4"/><circle cx="375.6" cy="429.4" r="2.4"/><circle cx="374.8" cy="427.1" r="2.4"/><circle cx="375.8" cy="425.2" r="2.4"/><circle cx="375.2" cy="423.7" r="2.4"/><circle cx="375.0" cy="422.2" r="2.4"/><circle cx="375.2" cy="421.3" r="2.4"/><circle cx="375.6" cy="420.3" r="2.4"/><circle cx="375.3" cy="419.1" r="2.4"/><circle cx="374.9" cy="417.7" r="2.4"/><circle cx="374.4" cy="416.4" r="2.4"/><circle cx="375.5" cy="414.6" r="2.4"/><circle cx="374.5" cy="412.8" r="2.4"/><circle cx="375.8" cy="411.4" r="2.4"/><circle cx="374.5" cy="410.2" r="2.4"/><circle cx="374.6" cy="409.1" r="2.4"/><circle cx="374.5" cy="407.6" r="2.4"/><circle cx="375.2" cy="405.9" r="2.4"/><circle cx="375.5" cy="404.5" r="2.4"/><circle cx="375.7" cy="403.1" r="2.4"/><circle cx="375.0" cy="401.7" r="2.4"/><circle cx="374.9" cy="400.1" r="2.4"/><circle cx="375.9" cy="398.6" r="2.4"/><circle cx="375.0" cy="397.0" r="2.4"/><circle cx="376.3" cy="395.4" r="2.4"/><circle cx="374.9" cy="394.1" r="2.4"/><circle cx="376.2" cy="392.7" r="2.4"/><circle cx="374.4" cy="391.7" r="2.4"/><circle cx="375.7" cy="390.4" r="2.4"/><circle cx="375.1" cy="388.8" r="2.4"/><circle cx="374.8" cy="387.0" r="2.4"/><circle cx="374.5" cy="385.4" r="2.4"/><circle cx="374.6" cy="384.5" r="2.4"/><circle cx="375.3" cy="383.5" r="2.4"/><circle cx="374.7" cy="382.1" r="2.4"/><circle cx="375.1" cy="380.4" r="2.4"/><circle cx="374.7" cy="379.3" r="2.4"/><circle cx="376.2" cy="377.8" r="2.4"/><circle cx="374.4" cy="376.7" r="2.4"/><circle cx="374.8" cy="375.1" r="2.4"/><circle cx="375.3" cy="373.3" r="2.4"/><circle cx="375.0" cy="371.7" r="2.4"/><circle cx="375.3" cy="369.9" r="2.4"/><circle cx="376.2" cy="368.5" r="2.4"/><circle cx="375.8" cy="367.3" r="2.4"/><circle cx="375.6" cy="366.1" r="2.4"/><circle cx="376.1" cy="364.6" r="2.4"/><circle cx="375.5" cy="362.0" r="2.4"/><circle cx="376.1" cy="359.1" r="2.4"/><circle cx="375.5" cy="358.0" r="2.4"/><circle cx="375.1" cy="315.9" r="2.4"/><circle cx="375.1" cy="336.0" r="2.4"/><circle cx="375.1" cy="339.0" r="2.4"/><circle cx="375.3" cy="345.4" r="2.4"/><circle cx="383.9" cy="428.4" r="2.4"/><circle cx="384.9" cy="426.6" r="2.4"/><circle cx="384.0" cy="424.5" r="2.4"/><circle cx="383.8" cy="422.7" r="2.4"/><circle cx="383.7" cy="421.3" r="2.4"/><circle cx="385.2" cy="419.6" r="2.4"/><circle cx="384.9" cy="418.5" r="2.4"/><circle cx="384.0" cy="416.9" r="2.4"/><circle cx="384.4" cy="415.7" r="2.4"/><circle cx="383.7" cy="414.0" r="2.4"/><circle cx="384.6" cy="412.4" r="2.4"/><circle cx="384.6" cy="411.1" r="2.4"/><circle cx="383.8" cy="409.4" r="2.4"/><circle cx="384.1" cy="407.7" r="2.4"/><circle cx="385.1" cy="406.1" r="2.4"/><circle cx="385.1" cy="405.1" r="2.4"/><circle cx="384.0" cy="403.3" r="2.4"/><circle cx="383.6" cy="402.4" r="2.4"/><circle cx="383.4" cy="400.6" r="2.4"/><circle cx="383.7" cy="398.9" r="2.4"/><circle cx="383.6" cy="397.3" r="2.4"/><circle cx="384.8" cy="396.3" r="2.4"/><circle cx="384.1" cy="395.3" r="2.4"/><circle cx="384.8" cy="393.5" r="2.4"/><circle cx="385.4" cy="391.8" r="2.4"/><circle cx="383.9" cy="390.9" r="2.4"/><circle cx="384.8" cy="389.3" r="2.4"/><circle cx="384.4" cy="388.4" r="2.4"/><circle cx="384.3" cy="387.3" r="2.4"/><circle cx="383.5" cy="386.3" r="2.4"/><circle cx="384.0" cy="384.5" r="2.4"/><circle cx="383.7" cy="382.8" r="2.4"/><circle cx="383.7" cy="381.4" r="2.4"/><circle cx="383.8" cy="380.2" r="2.4"/><circle cx="383.7" cy="378.6" r="2.4"/><circle cx="384.4" cy="377.1" r="2.4"/><circle cx="384.1" cy="376.1" r="2.4"/><circle cx="385.2" cy="374.7" r="2.4"/><circle cx="383.8" cy="373.5" r="2.4"/><circle cx="385.2" cy="371.7" r="2.4"/><circle cx="384.0" cy="370.2" r="2.4"/><circle cx="383.9" cy="369.1" r="2.4"/><circle cx="383.5" cy="368.2" r="2.4"/><circle cx="384.2" cy="366.8" r="2.4"/><circle cx="384.1" cy="365.4" r="2.4"/><circle cx="384.8" cy="364.5" r="2.4"/><circle cx="384.5" cy="363.0" r="2.4"/><circle cx="384.8" cy="361.6" r="2.4"/><circle cx="385.2" cy="359.8" r="2.4"/><circle cx="384.2" cy="358.3" r="2.4"/><circle cx="384.3" cy="357.1" r="2.4"/><circle cx="384.2" cy="355.3" r="2.4"/><circle cx="384.2" cy="354.1" r="2.4"/><circle cx="385.4" cy="353.1" r="2.4"/><circle cx="384.6" cy="352.1" r="2.4"/><circle cx="383.9" cy="350.4" r="2.4"/><circle cx="384.2" cy="349.0" r="2.4"/><circle cx="383.8" cy="347.8" r="2.4"/><circle cx="385.1" cy="346.8" r="2.4"/><circle cx="385.2" cy="345.2" r="2.4"/><circle cx="384.8" cy="344.3" r="2.4"/><circle cx="384.7" cy="343.1" r="2.4"/><circle cx="384.0" cy="341.7" r="2.4"/><circle cx="383.4" cy="339.9" r="2.4"/><circle cx="385.1" cy="338.4" r="2.4"/><circle cx="384.6" cy="337.0" r="2.4"/><circle cx="383.9" cy="335.0" r="2.4"/><circle cx="384.9" cy="333.3" r="2.4"/><circle cx="384.8" cy="331.9" r="2.4"/><circle cx="384.5" cy="330.4" r="2.4"/><circle cx="384.8" cy="328.8" r="2.4"/><circle cx="384.6" cy="326.0" r="2.4"/><circle cx="383.9" cy="322.9" r="2.4"/><circle cx="384.1" cy="322.0" r="2.4"/><circle cx="384.8" cy="200.1" r="2.4"/><circle cx="384.4" cy="299.0" r="2.4"/><circle cx="384.6" cy="309.5" r="2.4"/><circle cx="384.4" cy="313.0" r="2.4"/><circle cx="384.4" cy="316.0" r="2.4"/><circle cx="392.9" cy="429.2" r="2.4"/><circle cx="394.3" cy="427.5" r="2.4"/><circle cx="393.5" cy="425.5" r="2.4"/><circle cx="394.1" cy="424.1" r="2.4"/><circle cx="392.8" cy="423.0" r="2.4"/><circle cx="393.4" cy="421.3" r="2.4"/><circle cx="394.1" cy="419.9" r="2.4"/><circle cx="394.2" cy="418.2" r="2.4"/><circle cx="393.2" cy="417.2" r="2.4"/><circle cx="394.1" cy="415.6" r="2.4"/><circle cx="392.8" cy="414.6" r="2.4"/><circle cx="392.7" cy="413.4" r="2.4"/><circle cx="394.1" cy="412.2" r="2.4"/><circle cx="393.4" cy="410.8" r="2.4"/><circle cx="393.3" cy="409.9" r="2.4"/><circle cx="393.9" cy="408.1" r="2.4"/><circle cx="393.4" cy="406.8" r="2.4"/><circle cx="394.0" cy="405.1" r="2.4"/><circle cx="393.8" cy="404.1" r="2.4"/><circle cx="393.5" cy="402.9" r="2.4"/><circle cx="393.2" cy="401.8" r="2.4"/><circle cx="393.2" cy="400.6" r="2.4"/><circle cx="392.9" cy="399.6" r="2.4"/><circle cx="392.6" cy="398.2" r="2.4"/><circle cx="393.9" cy="397.2" r="2.4"/><circle cx="393.1" cy="396.0" r="2.4"/><circle cx="394.1" cy="394.9" r="2.4"/><circle cx="393.8" cy="393.9" r="2.4"/><circle cx="392.9" cy="392.2" r="2.4"/><circle cx="394.1" cy="391.0" r="2.4"/><circle cx="393.2" cy="389.5" r="2.4"/><circle cx="393.4" cy="388.6" r="2.4"/><circle cx="393.9" cy="387.3" r="2.4"/><circle cx="393.3" cy="386.2" r="2.4"/><circle cx="394.1" cy="384.7" r="2.4"/><circle cx="393.3" cy="383.5" r="2.4"/><circle cx="394.3" cy="382.0" r="2.4"/><circle cx="394.4" cy="381.0" r="2.4"/><circle cx="393.2" cy="379.2" r="2.4"/><circle cx="393.1" cy="377.5" r="2.4"/><circle cx="394.0" cy="376.4" r="2.4"/><circle cx="393.5" cy="374.9" r="2.4"/><circle cx="394.3" cy="373.4" r="2.4"/><circle cx="392.5" cy="371.6" r="2.4"/><circle cx="393.4" cy="369.4" r="2.4"/><circle cx="394.1" cy="366.4" r="2.4"/><circle cx="393.4" cy="362.9" r="2.4"/><circle cx="393.4" cy="357.8" r="2.4"/><circle cx="393.5" cy="352.8" r="2.4"/><circle cx="393.8" cy="345.9" r="2.4"/><circle cx="393.4" cy="345.0" r="2.4"/><circle cx="393.0" cy="286.3" r="2.4"/><circle cx="393.7" cy="330.8" r="2.4"/><circle cx="393.5" cy="337.0" r="2.4"/><circle cx="403.1" cy="429.4" r="2.4"/><circle cx="401.8" cy="427.2" r="2.4"/><circle cx="401.7" cy="425.4" r="2.4"/><circle cx="401.8" cy="423.8" r="2.4"/><circle cx="403.1" cy="422.8" r="2.4"/><circle cx="401.7" cy="421.4" r="2.4"/><circle cx="403.0" cy="419.9" r="2.4"/><circle cx="401.7" cy="418.5" r="2.4"/><circle cx="402.4" cy="417.0" r="2.4"/><circle cx="403.5" cy="415.6" r="2.4"/><circle cx="403.3" cy="414.0" r="2.4"/><circle cx="402.2" cy="412.9" r="2.4"/><circle cx="401.6" cy="411.6" r="2.4"/><circle cx="402.1" cy="409.8" r="2.4"/><circle cx="402.2" cy="408.6" r="2.4"/><circle cx="403.3" cy="407.5" r="2.4"/><circle cx="402.6" cy="406.1" r="2.4"/><circle cx="401.7" cy="404.8" r="2.4"/><circle cx="403.3" cy="403.6" r="2.4"/><circle cx="403.3" cy="402.0" r="2.4"/><circle cx="402.0" cy="400.9" r="2.4"/><circle cx="402.6" cy="399.9" r="2.4"/><circle cx="402.5" cy="398.7" r="2.4"/><circle cx="402.7" cy="397.4" r="2.4"/><circle cx="403.2" cy="395.9" r="2.4"/><circle cx="403.4" cy="394.7" r="2.4"/><circle cx="401.7" cy="393.1" r="2.4"/><circle cx="402.6" cy="391.7" r="2.4"/><circle cx="402.7" cy="390.2" r="2.4"/><circle cx="402.1" cy="388.8" r="2.4"/><circle cx="402.2" cy="386.7" r="2.4"/><circle cx="403.1" cy="383.3" r="2.4"/><circle cx="402.5" cy="381.3" r="2.4"/><circle cx="403.0" cy="266.2" r="2.4"/><circle cx="402.5" cy="321.5" r="2.4"/><circle cx="412.4" cy="430.4" r="2.4"/><circle cx="411.5" cy="428.8" r="2.4"/><circle cx="410.7" cy="426.6" r="2.4"/><circle cx="410.8" cy="425.0" r="2.4"/><circle cx="411.0" cy="423.5" r="2.4"/><circle cx="411.7" cy="421.8" r="2.4"/><circle cx="411.6" cy="420.2" r="2.4"/><circle cx="412.0" cy="418.7" r="2.4"/><circle cx="411.0" cy="417.5" r="2.4"/><circle cx="410.9" cy="415.9" r="2.4"/><circle cx="411.0" cy="414.1" r="2.4"/><circle cx="410.8" cy="413.1" r="2.4"/><circle cx="412.5" cy="411.5" r="2.4"/><circle cx="411.9" cy="410.3" r="2.4"/><circle cx="412.4" cy="409.1" r="2.4"/><circle cx="410.9" cy="407.6" r="2.4"/><circle cx="412.0" cy="406.7" r="2.4"/><circle cx="412.3" cy="405.7" r="2.4"/><circle cx="411.1" cy="404.6" r="2.4"/><circle cx="411.3" cy="403.1" r="2.4"/><circle cx="410.9" cy="401.7" r="2.4"/><circle cx="411.3" cy="400.0" r="2.4"/><circle cx="410.9" cy="398.3" r="2.4"/><circle cx="412.6" cy="396.7" r="2.4"/><circle cx="410.7" cy="395.5" r="2.4"/><circle cx="411.9" cy="394.2" r="2.4"/><circle cx="411.7" cy="393.1" r="2.4"/><circle cx="411.5" cy="392.1" r="2.4"/><circle cx="411.5" cy="390.6" r="2.4"/><circle cx="410.8" cy="389.1" r="2.4"/><circle cx="410.9" cy="387.4" r="2.4"/><circle cx="412.6" cy="385.7" r="2.4"/><circle cx="411.7" cy="384.0" r="2.4"/><circle cx="411.3" cy="382.8" r="2.4"/><circle cx="411.6" cy="381.2" r="2.4"/><circle cx="410.8" cy="379.5" r="2.4"/><circle cx="412.3" cy="378.2" r="2.4"/><circle cx="411.7" cy="376.7" r="2.4"/><circle cx="410.9" cy="375.7" r="2.4"/><circle cx="412.4" cy="374.6" r="2.4"/><circle cx="411.1" cy="372.9" r="2.4"/><circle cx="410.7" cy="371.2" r="2.4"/><circle cx="412.6" cy="369.8" r="2.4"/><circle cx="412.5" cy="368.5" r="2.4"/><circle cx="410.7" cy="367.1" r="2.4"/><circle cx="411.5" cy="365.9" r="2.4"/><circle cx="412.1" cy="364.7" r="2.4"/><circle cx="412.2" cy="363.7" r="2.4"/><circle cx="410.8" cy="362.5" r="2.4"/><circle cx="410.8" cy="361.1" r="2.4"/><circle cx="412.2" cy="359.7" r="2.4"/><circle cx="411.5" cy="358.3" r="2.4"/><circle cx="411.6" cy="357.3" r="2.4"/><circle cx="411.9" cy="356.4" r="2.4"/><circle cx="411.8" cy="355.3" r="2.4"/><circle cx="411.4" cy="354.1" r="2.4"/><circle cx="410.9" cy="352.6" r="2.4"/><circle cx="412.5" cy="351.6" r="2.4"/><circle cx="412.3" cy="350.4" r="2.4"/><circle cx="411.6" cy="348.7" r="2.4"/><circle cx="410.8" cy="347.4" r="2.4"/><circle cx="410.9" cy="345.6" r="2.4"/><circle cx="411.7" cy="344.0" r="2.4"/><circle cx="411.6" cy="342.8" r="2.4"/><circle cx="411.7" cy="341.6" r="2.4"/><circle cx="411.3" cy="340.0" r="2.4"/><circle cx="411.4" cy="337.4" r="2.4"/><circle cx="410.9" cy="334.8" r="2.4"/><circle cx="412.3" cy="331.6" r="2.4"/><circle cx="412.3" cy="327.4" r="2.4"/><circle cx="412.4" cy="323.5" r="2.4"/><circle cx="412.1" cy="317.6" r="2.4"/><circle cx="412.0" cy="310.4" r="2.4"/><circle cx="412.1" cy="303.9" r="2.4"/><circle cx="411.3" cy="301.0" r="2.4"/><circle cx="411.1" cy="276.9" r="2.4"/><circle cx="420.5" cy="422.4" r="2.4"/><circle cx="420.3" cy="420.4" r="2.4"/><circle cx="419.9" cy="418.1" r="2.4"/><circle cx="420.2" cy="416.7" r="2.4"/><circle cx="421.3" cy="415.2" r="2.4"/><circle cx="419.8" cy="413.7" r="2.4"/><circle cx="420.9" cy="412.6" r="2.4"/><circle cx="419.8" cy="410.8" r="2.4"/><circle cx="421.1" cy="409.3" r="2.4"/><circle cx="420.4" cy="407.7" r="2.4"/><circle cx="420.6" cy="406.1" r="2.4"/><circle cx="419.7" cy="404.3" r="2.4"/><circle cx="420.5" cy="402.6" r="2.4"/><circle cx="419.9" cy="401.3" r="2.4"/><circle cx="421.2" cy="400.2" r="2.4"/><circle cx="420.0" cy="398.7" r="2.4"/><circle cx="420.0" cy="397.5" r="2.4"/><circle cx="420.1" cy="396.4" r="2.4"/><circle cx="421.6" cy="395.2" r="2.4"/><circle cx="421.3" cy="393.4" r="2.4"/><circle cx="420.7" cy="392.1" r="2.4"/><circle cx="421.5" cy="390.5" r="2.4"/><circle cx="421.0" cy="388.9" r="2.4"/><circle cx="420.9" cy="387.8" r="2.4"/><circle cx="421.3" cy="386.1" r="2.4"/><circle cx="421.1" cy="385.2" r="2.4"/><circle cx="420.0" cy="383.9" r="2.4"/><circle cx="421.0" cy="382.2" r="2.4"/><circle cx="420.0" cy="380.6" r="2.4"/><circle cx="421.6" cy="379.0" r="2.4"/><circle cx="421.2" cy="377.2" r="2.4"/><circle cx="421.3" cy="375.6" r="2.4"/><circle cx="420.6" cy="374.2" r="2.4"/><circle cx="421.3" cy="372.5" r="2.4"/><circle cx="420.3" cy="370.8" r="2.4"/><circle cx="420.7" cy="369.1" r="2.4"/><circle cx="419.9" cy="367.3" r="2.4"/><circle cx="421.3" cy="365.6" r="2.4"/><circle cx="421.4" cy="364.4" r="2.4"/><circle cx="420.1" cy="363.3" r="2.4"/><circle cx="420.2" cy="362.0" r="2.4"/><circle cx="421.5" cy="360.7" r="2.4"/><circle cx="421.1" cy="359.1" r="2.4"/><circle cx="421.3" cy="357.9" r="2.4"/><circle cx="421.0" cy="356.3" r="2.4"/><circle cx="421.3" cy="354.5" r="2.4"/><circle cx="419.9" cy="353.3" r="2.4"/><circle cx="421.4" cy="351.8" r="2.4"/><circle cx="420.9" cy="350.6" r="2.4"/><circle cx="421.3" cy="348.9" r="2.4"/><circle cx="420.7" cy="348.0" r="2.4"/><circle cx="419.9" cy="347.1" r="2.4"/><circle cx="420.5" cy="345.5" r="2.4"/><circle cx="420.6" cy="344.0" r="2.4"/><circle cx="420.1" cy="342.8" r="2.4"/><circle cx="421.4" cy="341.6" r="2.4"/><circle cx="420.3" cy="340.1" r="2.4"/><circle cx="420.2" cy="339.2" r="2.4"/><circle cx="420.6" cy="337.6" r="2.4"/><circle cx="421.3" cy="336.1" r="2.4"/><circle cx="421.0" cy="335.1" r="2.4"/><circle cx="421.3" cy="334.2" r="2.4"/><circle cx="420.2" cy="333.1" r="2.4"/><circle cx="420.4" cy="331.4" r="2.4"/><circle cx="421.5" cy="330.3" r="2.4"/><circle cx="421.5" cy="328.8" r="2.4"/><circle cx="420.7" cy="327.6" r="2.4"/><circle cx="420.7" cy="325.8" r="2.4"/><circle cx="420.1" cy="324.0" r="2.4"/><circle cx="420.0" cy="322.4" r="2.4"/><circle cx="419.7" cy="321.0" r="2.4"/><circle cx="421.6" cy="319.9" r="2.4"/><circle cx="421.3" cy="318.6" r="2.4"/><circle cx="420.4" cy="317.5" r="2.4"/><circle cx="420.8" cy="316.5" r="2.4"/><circle cx="420.7" cy="314.8" r="2.4"/><circle cx="421.5" cy="313.6" r="2.4"/><circle cx="421.0" cy="311.9" r="2.4"/><circle cx="420.9" cy="310.9" r="2.4"/><circle cx="421.6" cy="309.6" r="2.4"/><circle cx="421.0" cy="308.2" r="2.4"/><circle cx="420.4" cy="306.5" r="2.4"/><circle cx="421.0" cy="305.0" r="2.4"/><circle cx="420.7" cy="303.0" r="2.4"/><circle cx="421.6" cy="301.6" r="2.4"/><circle cx="421.4" cy="300.5" r="2.4"/><circle cx="420.8" cy="298.0" r="2.4"/><circle cx="421.1" cy="295.0" r="2.4"/><circle cx="421.1" cy="290.7" r="2.4"/><circle cx="419.8" cy="285.9" r="2.4"/><circle cx="420.0" cy="281.3" r="2.4"/><circle cx="421.4" cy="274.0" r="2.4"/><circle cx="420.8" cy="268.2" r="2.4"/><circle cx="420.1" cy="264.8" r="2.4"/><circle cx="429.5" cy="425.4" r="2.4"/><circle cx="430.0" cy="423.2" r="2.4"/><circle cx="430.3" cy="421.4" r="2.4"/><circle cx="429.8" cy="420.2" r="2.4"/><circle cx="430.7" cy="418.9" r="2.4"/><circle cx="430.4" cy="417.5" r="2.4"/><circle cx="429.5" cy="415.9" r="2.4"/><circle cx="430.2" cy="414.2" r="2.4"/><circle cx="429.3" cy="412.7" r="2.4"/><circle cx="429.9" cy="411.6" r="2.4"/><circle cx="430.3" cy="410.0" r="2.4"/><circle cx="429.0" cy="408.8" r="2.4"/><circle cx="430.5" cy="407.4" r="2.4"/><circle cx="430.2" cy="406.3" r="2.4"/><circle cx="429.4" cy="405.3" r="2.4"/><circle cx="429.3" cy="404.3" r="2.4"/><circle cx="430.7" cy="403.1" r="2.4"/><circle cx="429.1" cy="401.3" r="2.4"/><circle cx="430.6" cy="400.2" r="2.4"/><circle cx="429.4" cy="399.1" r="2.4"/><circle cx="429.0" cy="397.8" r="2.4"/><circle cx="429.5" cy="396.6" r="2.4"/><circle cx="430.7" cy="395.4" r="2.4"/><circle cx="429.2" cy="394.3" r="2.4"/><circle cx="429.7" cy="392.5" r="2.4"/><circle cx="430.0" cy="390.9" r="2.4"/><circle cx="429.4" cy="389.3" r="2.4"/><circle cx="430.3" cy="388.3" r="2.4"/><circle cx="429.9" cy="386.9" r="2.4"/><circle cx="430.3" cy="385.4" r="2.4"/><circle cx="429.5" cy="384.3" r="2.4"/><circle cx="429.8" cy="382.6" r="2.4"/><circle cx="430.0" cy="381.4" r="2.4"/><circle cx="430.3" cy="380.3" r="2.4"/><circle cx="430.4" cy="379.3" r="2.4"/><circle cx="429.5" cy="377.9" r="2.4"/><circle cx="429.3" cy="376.2" r="2.4"/><circle cx="428.9" cy="375.0" r="2.4"/><circle cx="430.3" cy="373.7" r="2.4"/><circle cx="429.6" cy="372.1" r="2.4"/><circle cx="429.0" cy="370.5" r="2.4"/><circle cx="430.0" cy="369.3" r="2.4"/><circle cx="430.0" cy="367.6" r="2.4"/><circle cx="430.3" cy="366.0" r="2.4"/><circle cx="430.6" cy="364.8" r="2.4"/><circle cx="429.4" cy="363.2" r="2.4"/><circle cx="430.4" cy="362.0" r="2.4"/><circle cx="429.1" cy="360.8" r="2.4"/><circle cx="429.8" cy="359.1" r="2.4"/><circle cx="430.1" cy="357.7" r="2.4"/><circle cx="429.0" cy="356.0" r="2.4"/><circle cx="428.9" cy="354.8" r="2.4"/><circle cx="429.8" cy="353.5" r="2.4"/><circle cx="430.1" cy="351.8" r="2.4"/><circle cx="429.6" cy="350.4" r="2.4"/><circle cx="429.3" cy="349.0" r="2.4"/><circle cx="430.3" cy="347.3" r="2.4"/><circle cx="429.1" cy="345.7" r="2.4"/><circle cx="430.3" cy="344.2" r="2.4"/><circle cx="430.5" cy="342.8" r="2.4"/><circle cx="430.2" cy="341.1" r="2.4"/><circle cx="430.0" cy="339.5" r="2.4"/><circle cx="429.0" cy="337.8" r="2.4"/><circle cx="430.2" cy="336.3" r="2.4"/><circle cx="429.3" cy="334.8" r="2.4"/><circle cx="430.0" cy="333.9" r="2.4"/><circle cx="429.3" cy="332.2" r="2.4"/><circle cx="429.2" cy="331.1" r="2.4"/><circle cx="430.1" cy="330.1" r="2.4"/><circle cx="430.4" cy="328.4" r="2.4"/><circle cx="430.2" cy="327.1" r="2.4"/><circle cx="430.4" cy="326.2" r="2.4"/><circle cx="428.8" cy="325.0" r="2.4"/><circle cx="429.0" cy="323.3" r="2.4"/><circle cx="428.9" cy="322.0" r="2.4"/><circle cx="429.9" cy="320.5" r="2.4"/><circle cx="428.8" cy="318.6" r="2.4"/><circle cx="429.0" cy="316.8" r="2.4"/><circle cx="430.0" cy="314.0" r="2.4"/><circle cx="429.4" cy="311.2" r="2.4"/><circle cx="429.2" cy="307.4" r="2.4"/><circle cx="429.2" cy="302.5" r="2.4"/><circle cx="430.1" cy="301.0" r="2.4"/><circle cx="429.8" cy="265.3" r="2.4"/><circle cx="429.3" cy="276.9" r="2.4"/><circle cx="439.4" cy="427.9" r="2.4"/><circle cx="438.8" cy="426.3" r="2.4"/><circle cx="437.9" cy="424.3" r="2.4"/><circle cx="439.3" cy="422.9" r="2.4"/><circle cx="438.6" cy="421.4" r="2.4"/><circle cx="439.0" cy="420.1" r="2.4"/><circle cx="439.6" cy="419.0" r="2.4"/><circle cx="439.4" cy="417.2" r="2.4"/><circle cx="438.5" cy="415.4" r="2.4"/><circle cx="438.0" cy="413.6" r="2.4"/><circle cx="438.1" cy="412.3" r="2.4"/><circle cx="439.2" cy="411.0" r="2.4"/><circle cx="438.7" cy="409.5" r="2.4"/><circle cx="438.2" cy="408.2" r="2.4"/><circle cx="438.4" cy="407.0" r="2.4"/><circle cx="439.3" cy="405.9" r="2.4"/><circle cx="438.7" cy="404.5" r="2.4"/><circle cx="439.2" cy="403.5" r="2.4"/><circle cx="438.4" cy="402.4" r="2.4"/><circle cx="439.2" cy="401.0" r="2.4"/><circle cx="439.3" cy="399.2" r="2.4"/><circle cx="439.7" cy="397.5" r="2.4"/><circle cx="439.3" cy="395.9" r="2.4"/><circle cx="438.2" cy="395.0" r="2.4"/><circle cx="439.5" cy="394.0" r="2.4"/><circle cx="439.1" cy="392.5" r="2.4"/><circle cx="438.5" cy="391.4" r="2.4"/><circle cx="439.1" cy="390.3" r="2.4"/><circle cx="438.4" cy="388.5" r="2.4"/><circle cx="438.2" cy="387.6" r="2.4"/><circle cx="439.6" cy="386.4" r="2.4"/><circle cx="438.7" cy="384.7" r="2.4"/><circle cx="438.0" cy="383.7" r="2.4"/><circle cx="439.4" cy="382.7" r="2.4"/><circle cx="439.8" cy="381.4" r="2.4"/><circle cx="439.4" cy="379.7" r="2.4"/><circle cx="439.5" cy="378.3" r="2.4"/><circle cx="438.0" cy="377.3" r="2.4"/><circle cx="438.8" cy="375.9" r="2.4"/><circle cx="438.3" cy="374.6" r="2.4"/><circle cx="439.6" cy="373.5" r="2.4"/><circle cx="439.7" cy="371.8" r="2.4"/><circle cx="438.7" cy="369.8" r="2.4"/><circle cx="438.6" cy="368.0" r="2.4"/><circle cx="439.2" cy="336.2" r="2.4"/><circle cx="447.2" cy="426.7" r="2.4"/><circle cx="447.3" cy="425.1" r="2.4"/><circle cx="447.6" cy="423.0" r="2.4"/><circle cx="448.5" cy="422.1" r="2.4"/><circle cx="447.8" cy="420.5" r="2.4"/><circle cx="448.7" cy="419.6" r="2.4"/><circle cx="447.0" cy="418.2" r="2.4"/><circle cx="448.1" cy="417.0" r="2.4"/><circle cx="447.9" cy="415.3" r="2.4"/><circle cx="447.3" cy="413.8" r="2.4"/><circle cx="448.7" cy="412.7" r="2.4"/><circle cx="447.1" cy="411.5" r="2.4"/><circle cx="447.1" cy="410.0" r="2.4"/><circle cx="447.8" cy="408.7" r="2.4"/><circle cx="448.2" cy="407.1" r="2.4"/><circle cx="447.8" cy="405.4" r="2.4"/><circle cx="448.3" cy="404.2" r="2.4"/><circle cx="447.8" cy="403.1" r="2.4"/><circle cx="448.2" cy="401.6" r="2.4"/><circle cx="447.4" cy="399.0" r="2.4"/><circle cx="448.2" cy="395.7" r="2.4"/><circle cx="447.5" cy="393.6" r="2.4"/><circle cx="448.3" cy="344.3" r="2.4"/><circle cx="457.2" cy="426.7" r="2.4"/><circle cx="456.4" cy="425.0" r="2.4"/><circle cx="456.4" cy="422.7" r="2.4"/><circle cx="457.5" cy="421.4" r="2.4"/><circle cx="457.2" cy="419.8" r="2.4"/><circle cx="456.0" cy="418.2" r="2.4"/><circle cx="457.9" cy="417.2" r="2.4"/><circle cx="456.0" cy="415.6" r="2.4"/><circle cx="456.4" cy="414.6" r="2.4"/><circle cx="456.4" cy="412.9" r="2.4"/><circle cx="457.8" cy="411.4" r="2.4"/><circle cx="457.8" cy="409.9" r="2.4"/><circle cx="456.3" cy="408.8" r="2.4"/><circle cx="457.5" cy="407.9" r="2.4"/><circle cx="457.9" cy="406.9" r="2.4"/><circle cx="456.3" cy="405.3" r="2.4"/><circle cx="456.3" cy="403.7" r="2.4"/><circle cx="456.2" cy="402.4" r="2.4"/><circle cx="457.7" cy="400.7" r="2.4"/><circle cx="456.0" cy="399.0" r="2.4"/><circle cx="457.1" cy="397.4" r="2.4"/><circle cx="457.0" cy="395.7" r="2.4"/><circle cx="457.1" cy="394.3" r="2.4"/><circle cx="456.1" cy="392.6" r="2.4"/><circle cx="457.0" cy="391.7" r="2.4"/><circle cx="456.7" cy="390.5" r="2.4"/><circle cx="457.4" cy="389.6" r="2.4"/><circle cx="457.6" cy="388.7" r="2.4"/><circle cx="456.9" cy="387.1" r="2.4"/><circle cx="457.3" cy="386.1" r="2.4"/><circle cx="456.8" cy="385.0" r="2.4"/><circle cx="457.9" cy="384.0" r="2.4"/><circle cx="456.7" cy="382.6" r="2.4"/><circle cx="457.4" cy="381.6" r="2.4"/><circle cx="457.7" cy="379.9" r="2.4"/><circle cx="456.7" cy="378.9" r="2.4"/><circle cx="457.5" cy="377.8" r="2.4"/><circle cx="457.2" cy="376.7" r="2.4"/><circle cx="457.5" cy="375.0" r="2.4"/><circle cx="456.1" cy="374.1" r="2.4"/><circle cx="457.3" cy="373.0" r="2.4"/><circle cx="457.0" cy="371.6" r="2.4"/><circle cx="456.8" cy="370.3" r="2.4"/><circle cx="457.3" cy="368.9" r="2.4"/><circle cx="457.4" cy="367.1" r="2.4"/><circle cx="457.8" cy="365.5" r="2.4"/><circle cx="457.4" cy="363.9" r="2.4"/><circle cx="457.3" cy="362.9" r="2.4"/><circle cx="456.8" cy="361.3" r="2.4"/><circle cx="456.3" cy="359.6" r="2.4"/><circle cx="456.8" cy="357.8" r="2.4"/><circle cx="456.5" cy="356.3" r="2.4"/><circle cx="456.7" cy="355.1" r="2.4"/><circle cx="456.1" cy="353.9" r="2.4"/><circle cx="457.9" cy="352.6" r="2.4"/><circle cx="457.8" cy="351.1" r="2.4"/><circle cx="457.6" cy="349.6" r="2.4"/><circle cx="457.5" cy="347.8" r="2.4"/><circle cx="456.5" cy="346.6" r="2.4"/><circle cx="456.0" cy="345.3" r="2.4"/><circle cx="457.7" cy="344.2" r="2.4"/><circle cx="456.6" cy="342.5" r="2.4"/><circle cx="457.5" cy="340.7" r="2.4"/><circle cx="457.5" cy="338.8" r="2.4"/><circle cx="456.2" cy="337.2" r="2.4"/><circle cx="456.6" cy="335.4" r="2.4"/><circle cx="456.7" cy="332.0" r="2.4"/><circle cx="457.8" cy="328.9" r="2.4"/><circle cx="457.0" cy="325.9" r="2.4"/><circle cx="457.0" cy="325.0" r="2.4"/><circle cx="457.4" cy="228.6" r="2.4"/><circle cx="456.9" cy="312.4" r="2.4"/><circle cx="457.4" cy="307.4" r="2.4"/><circle cx="466.4" cy="429.4" r="2.4"/><circle cx="465.2" cy="427.0" r="2.4"/><circle cx="465.6" cy="425.3" r="2.4"/><circle cx="465.1" cy="423.5" r="2.4"/><circle cx="466.5" cy="422.4" r="2.4"/><circle cx="465.4" cy="420.6" r="2.4"/><circle cx="466.4" cy="419.3" r="2.4"/><circle cx="466.5" cy="417.8" r="2.4"/><circle cx="465.5" cy="416.2" r="2.4"/><circle cx="465.1" cy="415.1" r="2.4"/><circle cx="465.4" cy="413.6" r="2.4"/><circle cx="467.0" cy="412.4" r="2.4"/><circle cx="466.2" cy="411.0" r="2.4"/><circle cx="466.2" cy="409.5" r="2.4"/><circle cx="465.6" cy="407.9" r="2.4"/><circle cx="465.2" cy="407.0" r="2.4"/><circle cx="465.7" cy="406.1" r="2.4"/><circle cx="465.2" cy="405.0" r="2.4"/><circle cx="467.0" cy="403.7" r="2.4"/><circle cx="465.6" cy="402.2" r="2.4"/><circle cx="465.4" cy="400.6" r="2.4"/><circle cx="465.6" cy="399.6" r="2.4"/><circle cx="466.4" cy="398.3" r="2.4"/><circle cx="466.5" cy="397.0" r="2.4"/><circle cx="466.9" cy="396.0" r="2.4"/><circle cx="466.7" cy="394.8" r="2.4"/><circle cx="466.7" cy="393.9" r="2.4"/><circle cx="466.7" cy="392.8" r="2.4"/><circle cx="466.4" cy="391.2" r="2.4"/><circle cx="465.0" cy="390.0" r="2.4"/><circle cx="466.8" cy="389.0" r="2.4"/><circle cx="466.3" cy="387.9" r="2.4"/><circle cx="466.3" cy="386.5" r="2.4"/><circle cx="465.3" cy="385.4" r="2.4"/><circle cx="467.0" cy="384.4" r="2.4"/><circle cx="466.3" cy="383.2" r="2.4"/><circle cx="465.5" cy="381.8" r="2.4"/><circle cx="465.1" cy="380.8" r="2.4"/><circle cx="465.3" cy="379.2" r="2.4"/><circle cx="465.8" cy="377.4" r="2.4"/><circle cx="465.3" cy="375.8" r="2.4"/><circle cx="465.5" cy="374.2" r="2.4"/><circle cx="466.1" cy="373.0" r="2.4"/><circle cx="465.5" cy="372.0" r="2.4"/><circle cx="465.6" cy="370.4" r="2.4"/><circle cx="466.6" cy="369.1" r="2.4"/><circle cx="465.4" cy="368.0" r="2.4"/><circle cx="465.8" cy="366.9" r="2.4"/><circle cx="466.3" cy="365.7" r="2.4"/><circle cx="466.8" cy="364.4" r="2.4"/><circle cx="466.4" cy="363.2" r="2.4"/><circle cx="465.5" cy="361.4" r="2.4"/><circle cx="465.9" cy="360.3" r="2.4"/><circle cx="465.9" cy="359.1" r="2.4"/><circle cx="465.2" cy="357.3" r="2.4"/><circle cx="466.0" cy="356.1" r="2.4"/><circle cx="465.5" cy="353.0" r="2.4"/><circle cx="465.3" cy="350.0" r="2.4"/><circle cx="465.8" cy="347.2" r="2.4"/><circle cx="466.8" cy="343.0" r="2.4"/><circle cx="465.5" cy="341.0" r="2.4"/><circle cx="465.7" cy="305.3" r="2.4"/><circle cx="466.3" cy="314.8" r="2.4"/><circle cx="466.1" cy="327.5" r="2.4"/><circle cx="466.4" cy="333.8" r="2.4"/><circle cx="476.0" cy="429.4" r="2.4"/><circle cx="474.3" cy="427.1" r="2.4"/><circle cx="475.1" cy="424.8" r="2.4"/><circle cx="474.4" cy="423.6" r="2.4"/><circle cx="474.5" cy="422.0" r="2.4"/><circle cx="474.6" cy="421.0" r="2.4"/><circle cx="475.0" cy="419.3" r="2.4"/><circle cx="474.2" cy="417.7" r="2.4"/><circle cx="474.7" cy="416.4" r="2.4"/><circle cx="475.4" cy="415.3" r="2.4"/><circle cx="474.3" cy="414.1" r="2.4"/><circle cx="475.1" cy="412.3" r="2.4"/><circle cx="474.1" cy="411.2" r="2.4"/><circle cx="475.1" cy="409.7" r="2.4"/><circle cx="475.0" cy="408.8" r="2.4"/><circle cx="475.2" cy="407.3" r="2.4"/><circle cx="475.1" cy="406.1" r="2.4"/><circle cx="475.4" cy="404.7" r="2.4"/><circle cx="475.7" cy="403.7" r="2.4"/><circle cx="475.6" cy="401.9" r="2.4"/><circle cx="474.8" cy="400.3" r="2.4"/><circle cx="474.5" cy="398.3" r="2.4"/><circle cx="475.3" cy="397.0" r="2.4"/><circle cx="474.3" cy="395.1" r="2.4"/><circle cx="474.2" cy="393.8" r="2.4"/><circle cx="474.4" cy="392.3" r="2.4"/><circle cx="475.6" cy="391.1" r="2.4"/><circle cx="475.9" cy="389.0" r="2.4"/><circle cx="475.4" cy="386.1" r="2.4"/><circle cx="475.9" cy="383.3" r="2.4"/><circle cx="475.1" cy="383.0" r="2.4"/><circle cx="475.1" cy="331.6" r="2.4"/><circle cx="475.5" cy="353.0" r="2.4"/><circle cx="475.1" cy="358.0" r="2.4"/><circle cx="475.6" cy="369.0" r="2.4"/><circle cx="475.2" cy="372.7" r="2.4"/><circle cx="483.6" cy="427.9" r="2.4"/><circle cx="483.6" cy="425.6" r="2.4"/><circle cx="484.1" cy="423.2" r="2.4"/><circle cx="485.1" cy="422.1" r="2.4"/><circle cx="484.0" cy="420.9" r="2.4"/><circle cx="484.5" cy="419.7" r="2.4"/><circle cx="483.9" cy="418.8" r="2.4"/><circle cx="484.8" cy="417.8" r="2.4"/><circle cx="484.4" cy="416.9" r="2.4"/><circle cx="484.1" cy="415.7" r="2.4"/><circle cx="484.6" cy="414.3" r="2.4"/><circle cx="483.6" cy="413.3" r="2.4"/><circle cx="485.1" cy="412.3" r="2.4"/><circle cx="483.4" cy="411.3" r="2.4"/><circle cx="484.3" cy="409.9" r="2.4"/><circle cx="483.3" cy="408.2" r="2.4"/><circle cx="483.5" cy="407.1" r="2.4"/><circle cx="484.1" cy="405.7" r="2.4"/><circle cx="484.9" cy="404.4" r="2.4"/><circle cx="484.9" cy="402.9" r="2.4"/><circle cx="483.7" cy="401.1" r="2.4"/><circle cx="484.0" cy="399.2" r="2.4"/><circle cx="485.0" cy="398.0" r="2.4"/><circle cx="483.2" cy="396.8" r="2.4"/><circle cx="483.7" cy="395.5" r="2.4"/><circle cx="484.9" cy="393.5" r="2.4"/><circle cx="484.2" cy="392.0" r="2.4"/><circle cx="484.7" cy="390.0" r="2.4"/><circle cx="484.2" cy="388.0" r="2.4"/><circle cx="483.8" cy="366.5" r="2.4"/><circle cx="483.9" cy="372.8" r="2.4"/><circle cx="484.3" cy="384.4" r="2.4"/><circle cx="493.4" cy="425.4" r="2.4"/><circle cx="494.0" cy="423.2" r="2.4"/><circle cx="492.6" cy="420.8" r="2.4"/><circle cx="494.0" cy="419.8" r="2.4"/><circle cx="492.6" cy="418.4" r="2.4"/><circle cx="492.7" cy="416.9" r="2.4"/><circle cx="493.0" cy="415.8" r="2.4"/><circle cx="493.6" cy="414.4" r="2.4"/><circle cx="493.7" cy="413.4" r="2.4"/><circle cx="493.2" cy="412.0" r="2.4"/><circle cx="493.8" cy="410.5" r="2.4"/><circle cx="493.2" cy="409.6" r="2.4"/><circle cx="493.6" cy="408.0" r="2.4"/><circle cx="492.6" cy="406.6" r="2.4"/><circle cx="493.8" cy="404.8" r="2.4"/><circle cx="493.1" cy="403.7" r="2.4"/><circle cx="492.6" cy="401.9" r="2.4"/><circle cx="494.2" cy="400.7" r="2.4"/><circle cx="492.7" cy="399.0" r="2.4"/><circle cx="492.9" cy="397.4" r="2.4"/><circle cx="493.8" cy="395.9" r="2.4"/><circle cx="492.7" cy="394.9" r="2.4"/><circle cx="492.8" cy="393.8" r="2.4"/><circle cx="492.5" cy="392.9" r="2.4"/><circle cx="493.1" cy="391.6" r="2.4"/><circle cx="493.4" cy="390.6" r="2.4"/><circle cx="493.4" cy="388.9" r="2.4"/><circle cx="493.6" cy="387.7" r="2.4"/><circle cx="492.6" cy="386.4" r="2.4"/><circle cx="492.3" cy="385.0" r="2.4"/><circle cx="492.5" cy="383.5" r="2.4"/><circle cx="494.2" cy="382.3" r="2.4"/><circle cx="493.9" cy="380.7" r="2.4"/><circle cx="493.5" cy="379.2" r="2.4"/><circle cx="494.2" cy="377.7" r="2.4"/><circle cx="493.8" cy="376.6" r="2.4"/><circle cx="492.7" cy="375.4" r="2.4"/><circle cx="493.4" cy="373.8" r="2.4"/><circle cx="494.0" cy="372.1" r="2.4"/><circle cx="492.6" cy="370.7" r="2.4"/><circle cx="493.3" cy="369.8" r="2.4"/><circle cx="492.8" cy="368.2" r="2.4"/><circle cx="492.2" cy="367.3" r="2.4"/><circle cx="493.6" cy="366.2" r="2.4"/><circle cx="492.7" cy="365.1" r="2.4"/><circle cx="493.7" cy="363.8" r="2.4"/><circle cx="492.3" cy="361.8" r="2.4"/><circle cx="494.1" cy="360.6" r="2.4"/><circle cx="492.5" cy="358.6" r="2.4"/><circle cx="493.3" cy="357.2" r="2.4"/><circle cx="493.1" cy="354.7" r="2.4"/><circle cx="492.8" cy="351.7" r="2.4"/><circle cx="492.5" cy="348.8" r="2.4"/><circle cx="492.5" cy="345.3" r="2.4"/><circle cx="493.5" cy="344.0" r="2.4"/><circle cx="493.0" cy="316.0" r="2.4"/><circle cx="493.5" cy="333.5" r="2.4"/><circle cx="502.8" cy="427.4" r="2.4"/><circle cx="502.3" cy="425.5" r="2.4"/><circle cx="503.2" cy="423.8" r="2.4"/><circle cx="501.4" cy="422.4" r="2.4"/><circle cx="502.7" cy="421.3" r="2.4"/><circle cx="502.7" cy="420.1" r="2.4"/><circle cx="502.9" cy="419.0" r="2.4"/><circle cx="501.5" cy="417.4" r="2.4"/><circle cx="501.7" cy="415.9" r="2.4"/><circle cx="502.9" cy="414.4" r="2.4"/><circle cx="501.8" cy="412.8" r="2.4"/><circle cx="502.6" cy="411.8" r="2.4"/><circle cx="501.6" cy="410.4" r="2.4"/><circle cx="502.5" cy="409.3" r="2.4"/><circle cx="502.6" cy="408.3" r="2.4"/><circle cx="501.8" cy="407.2" r="2.4"/><circle cx="502.4" cy="405.9" r="2.4"/><circle cx="501.4" cy="404.4" r="2.4"/><circle cx="501.7" cy="402.8" r="2.4"/><circle cx="502.6" cy="401.7" r="2.4"/><circle cx="502.5" cy="400.1" r="2.4"/><circle cx="501.7" cy="398.4" r="2.4"/><circle cx="502.6" cy="397.0" r="2.4"/><circle cx="501.6" cy="395.7" r="2.4"/><circle cx="502.8" cy="394.4" r="2.4"/><circle cx="502.7" cy="392.6" r="2.4"/><circle cx="502.9" cy="390.6" r="2.4"/><circle cx="501.9" cy="389.2" r="2.4"/><circle cx="501.5" cy="386.7" r="2.4"/><circle cx="501.6" cy="383.5" r="2.4"/><circle cx="502.3" cy="380.7" r="2.4"/><circle cx="502.8" cy="377.6" r="2.4"/><circle cx="502.7" cy="276.9" r="2.4"/><circle cx="502.3" cy="299.0" r="2.4"/></g>
<path d="M72.0 422.4H80.2M81.1 421.4H89.3M90.1 413.3H98.3M99.2 417.5H107.4M108.3 410.3H116.5M117.3 420.0H125.5M126.4 405.2H134.6M135.5 381.2H143.7M144.5 421.7H152.7M153.6 412.2H161.8M162.7 421.7H170.9M171.7 405.4H179.9M180.8 417.5H189.0M189.9 413.9H198.1M199.0 417.0H207.2M208.0 417.0H216.2M217.1 418.7H225.3M226.2 421.3H234.4M235.2 421.3H243.4M244.3 421.3H252.5M253.4 410.7H261.6M262.4 422.0H270.6M271.5 409.6H279.7M280.6 423.2H288.8M289.6 413.3H297.8M298.7 417.0H306.9M307.8 399.8H316.0M316.8 423.2H325.0M325.9 408.4H334.1M335.0 412.8H343.2M344.0 408.9H352.2M353.1 419.0H361.3M362.2 421.2H370.4M371.2 399.3H379.4M380.3 419.5H388.5M389.4 410.0H397.6M398.4 422.0H406.6M407.5 390.0H415.7M416.6 366.5H424.8M425.7 367.2H433.9M434.7 401.0H442.9M443.8 414.0H452.0M452.9 401.7H461.1M461.9 413.3H470.1M471.0 414.5H479.2M480.1 419.5H488.3M489.1 402.2H497.3M498.2 420.7H506.4" stroke="#e0177c" stroke-width="2.4"/>
<g><circle cx="76.1" cy="380.8" r="2.3" fill="#2179CF"/><circle cx="76.1" cy="426.8" r="2.3" fill="#8A2BD0"/><circle cx="85.2" cy="358.4" r="2.3" fill="#2179CF"/><circle cx="94.2" cy="400.5" r="2.3" fill="#2179CF"/><circle cx="103.3" cy="394.3" r="2.3" fill="#2179CF"/><circle cx="112.4" cy="403.0" r="2.3" fill="#2179CF"/><circle cx="121.4" cy="412.0" r="2.3" fill="#2179CF"/><circle cx="121.4" cy="395.6" r="2.3" fill="#8A2BD0"/><circle cx="130.5" cy="390.4" r="2.3" fill="#2179CF"/><circle cx="139.6" cy="353.8" r="2.3" fill="#8A2BD0"/><circle cx="148.6" cy="388.0" r="2.3" fill="#2179CF"/><circle cx="157.7" cy="381.8" r="2.3" fill="#2179CF"/><circle cx="157.7" cy="378.6" r="2.3" fill="#8A2BD0"/><circle cx="175.8" cy="384.3" r="2.3" fill="#2179CF"/><circle cx="184.9" cy="366.4" r="2.3" fill="#2179CF"/><circle cx="194.0" cy="417.5" r="2.3" fill="#2179CF"/><circle cx="203.1" cy="380.0" r="2.3" fill="#2179CF"/><circle cx="203.1" cy="343.8" r="2.3" fill="#8A2BD0"/><circle cx="212.1" cy="388.0" r="2.3" fill="#2179CF"/><circle cx="212.1" cy="361.6" r="2.3" fill="#8A2BD0"/><circle cx="221.2" cy="410.7" r="2.3" fill="#2179CF"/><circle cx="230.3" cy="423.4" r="2.3" fill="#2179CF"/><circle cx="239.3" cy="386.0" r="2.3" fill="#2179CF"/><circle cx="248.4" cy="380.0" r="2.3" fill="#2179CF"/><circle cx="284.7" cy="357.9" r="2.3" fill="#2179CF"/><circle cx="302.8" cy="345.0" r="2.3" fill="#2179CF"/><circle cx="302.8" cy="370.2" r="2.3" fill="#2179CF"/><circle cx="311.9" cy="382.5" r="2.3" fill="#2179CF"/><circle cx="311.9" cy="386.2" r="2.3" fill="#2179CF"/><circle cx="320.9" cy="381.3" r="2.3" fill="#2179CF"/><circle cx="320.9" cy="393.6" r="2.3" fill="#2179CF"/><circle cx="330.0" cy="327.0" r="2.3" fill="#8A2BD0"/><circle cx="339.1" cy="376.8" r="2.3" fill="#2179CF"/><circle cx="339.1" cy="391.0" r="2.3" fill="#2179CF"/><circle cx="348.1" cy="356.0" r="2.3" fill="#2179CF"/><circle cx="348.1" cy="360.0" r="2.3" fill="#2179CF"/><circle cx="348.1" cy="386.2" r="2.3" fill="#8A2BD0"/><circle cx="357.2" cy="378.8" r="2.3" fill="#2179CF"/><circle cx="384.4" cy="385.0" r="2.3" fill="#2179CF"/><circle cx="384.4" cy="398.0" r="2.3" fill="#2179CF"/><circle cx="384.4" cy="428.0" r="2.3" fill="#8A2BD0"/><circle cx="393.5" cy="358.6" r="2.3" fill="#2179CF"/><circle cx="393.5" cy="381.3" r="2.3" fill="#2179CF"/><circle cx="402.5" cy="399.8" r="2.3" fill="#2179CF"/><circle cx="402.5" cy="410.0" r="2.3" fill="#2179CF"/><circle cx="411.6" cy="329.4" r="2.3" fill="#8A2BD0"/><circle cx="420.7" cy="375.1" r="2.3" fill="#2179CF"/><circle cx="420.7" cy="382.0" r="2.3" fill="#2179CF"/><circle cx="420.7" cy="282.3" r="2.3" fill="#8A2BD0"/><circle cx="429.8" cy="324.7" r="2.3" fill="#2179CF"/><circle cx="429.8" cy="384.5" r="2.3" fill="#2179CF"/><circle cx="429.8" cy="285.0" r="2.3" fill="#8A2BD0"/><circle cx="438.8" cy="349.3" r="2.3" fill="#2179CF"/><circle cx="438.8" cy="363.5" r="2.3" fill="#2179CF"/><circle cx="447.9" cy="336.5" r="2.3" fill="#2179CF"/><circle cx="457.0" cy="370.2" r="2.3" fill="#8A2BD0"/><circle cx="466.0" cy="351.7" r="2.3" fill="#2179CF"/><circle cx="466.0" cy="375.1" r="2.3" fill="#8A2BD0"/><circle cx="475.1" cy="378.8" r="2.3" fill="#2179CF"/><circle cx="484.2" cy="399.8" r="2.3" fill="#2179CF"/><circle cx="484.2" cy="405.4" r="2.3" fill="#2179CF"/><circle cx="493.2" cy="420.0" r="2.3" fill="#2179CF"/><circle cx="502.3" cy="393.6" r="2.3" fill="#2179CF"/><circle cx="502.3" cy="396.0" r="2.3" fill="#2179CF"/></g>
<rect x="54.5" y="461.7" width="464.5" height="43.5" fill="none" stroke="#333333" stroke-width="1"/>
<text x="45.3" y="507.9" font-size="8.7" text-anchor="end" fill="#111">0</text>
<text x="45.3" y="499.5" font-size="8.7" text-anchor="end" fill="#111">200</text>
<text x="45.3" y="491.1" font-size="8.7" text-anchor="end" fill="#111">400</text>
<text x="45.3" y="482.6" font-size="8.7" text-anchor="end" fill="#111">600</text>
<text x="45.3" y="474.2" font-size="8.7" text-anchor="end" fill="#111">800</text>
<text x="45.3" y="465.8" font-size="8.7" text-anchor="end" fill="#111">1,000</text>
<path d="M48.3 505.0H54.5M48.3 496.6H54.5M48.3 488.2H54.5M48.3 479.7H54.5M48.3 471.3H54.5M48.3 462.9H54.5" stroke="#333333" stroke-width="1"/>
<text transform="translate(6.8,486) rotate(-90)" font-size="9.5" text-anchor="middle" fill="#111">Somatic</text>
<text transform="translate(17.8,482.6) rotate(-90)" font-size="9" text-anchor="middle" fill="#111">mutations (<tspan font-style="italic">n</tspan>)</text>
<text transform="translate(74.8,515.5) rotate(-90)" font-size="9.4" text-anchor="end" fill="#111">D_17A1</text>
<text transform="translate(84.0,515.5) rotate(-90)" font-size="9.4" text-anchor="end" fill="#111">D_17A2</text>
<text transform="translate(93.1,515.5) rotate(-90)" font-size="9.4" text-anchor="end" fill="#111">D_19A1</text>
<text transform="translate(102.3,515.5) rotate(-90)" font-size="9.4" text-anchor="end" fill="#111">D_19A2</text>
<text transform="translate(111.4,515.5) rotate(-90)" font-size="9.4" text-anchor="end" fill="#111">D_21A3</text>
<text transform="translate(120.6,515.5) rotate(-90)" font-size="9.4" text-anchor="end" fill="#111">D_22A4</text>
<text transform="translate(129.8,515.5) rotate(-90)" font-size="9.4" text-anchor="end" fill="#111">D_29A3</text>
<text transform="translate(138.9,515.5) rotate(-90)" font-size="9.4" text-anchor="end" fill="#111">D_29A4</text>
<text transform="translate(148.1,515.5) rotate(-90)" font-size="9.4" text-anchor="end" fill="#111">D_30A1</text>
<text transform="translate(157.2,515.5) rotate(-90)" font-size="9.4" text-anchor="end" fill="#111">D_30A3</text>
<text transform="translate(166.4,515.5) rotate(-90)" font-size="9.4" text-anchor="end" fill="#111">D_3A2</text>
<text transform="translate(175.6,515.5) rotate(-90)" font-size="9.4" text-anchor="end" fill="#111">D_3A3</text>
<text transform="translate(184.7,515.5) rotate(-90)" font-size="9.4" text-anchor="end" fill="#111">D_4A3</text>
<text transform="translate(193.9,515.5) rotate(-90)" font-size="9.4" text-anchor="end" fill="#111">D_50A1</text>
<text transform="translate(203.0,515.5) rotate(-90)" font-size="9.4" text-anchor="end" fill="#111">D_51A1</text>
<text transform="translate(212.2,515.5) rotate(-90)" font-size="9.4" text-anchor="end" fill="#111">D_51A3</text>
<text transform="translate(221.4,515.5) rotate(-90)" font-size="9.4" text-anchor="end" fill="#111">D_51A4</text>
<text transform="translate(230.5,515.5) rotate(-90)" font-size="9.4" text-anchor="end" fill="#111">D_52A2</text>
<text transform="translate(239.7,515.5) rotate(-90)" font-size="9.4" text-anchor="end" fill="#111">D_52A3</text>
<text transform="translate(248.8,515.5) rotate(-90)" font-size="9.4" text-anchor="end" fill="#111">D_52A4</text>
<text transform="translate(258.0,515.5) rotate(-90)" font-size="9.4" text-anchor="end" fill="#111">DP1A1</text>
<text transform="translate(267.2,515.5) rotate(-90)" font-size="9.4" text-anchor="end" fill="#111">DP22A1</text>
<text transform="translate(276.3,515.5) rotate(-90)" font-size="9.4" text-anchor="end" fill="#111">DP4A2</text>
<text transform="translate(285.5,515.5) rotate(-90)" font-size="9.4" text-anchor="end" fill="#111">DP4A3</text>
<text transform="translate(294.6,515.5) rotate(-90)" font-size="9.4" text-anchor="end" fill="#111">D_24A2</text>
<text transform="translate(303.8,515.5) rotate(-90)" font-size="9.4" text-anchor="end" fill="#111">D_24A3</text>
<text transform="translate(313.0,515.5) rotate(-90)" font-size="9.4" text-anchor="end" fill="#111">D_24A5</text>
<text transform="translate(322.1,515.5) rotate(-90)" font-size="9.4" text-anchor="end" fill="#111">D_24A6</text>
<text transform="translate(331.3,515.5) rotate(-90)" font-size="9.4" text-anchor="end" fill="#111">D_24A7</text>
<text transform="translate(340.4,515.5) rotate(-90)" font-size="9.4" text-anchor="end" fill="#111">D_24A8</text>
<text transform="translate(349.6,515.5) rotate(-90)" font-size="9.4" text-anchor="end" fill="#111">D_26A2</text>
<text transform="translate(358.8,515.5) rotate(-90)" font-size="9.4" text-anchor="end" fill="#111">D_33A1</text>
<text transform="translate(367.9,515.5) rotate(-90)" font-size="9.4" text-anchor="end" fill="#111">D_33A2</text>
<text transform="translate(377.1,515.5) rotate(-90)" font-size="9.4" text-anchor="end" fill="#111">D_36A3</text>
<text transform="translate(386.2,515.5) rotate(-90)" font-size="9.4" text-anchor="end" fill="#111">D_37A1</text>
<text transform="translate(395.4,515.5) rotate(-90)" font-size="9.4" text-anchor="end" fill="#111">D_37A6</text>
<text transform="translate(404.6,515.5) rotate(-90)" font-size="9.4" text-anchor="end" fill="#111">D_38A1</text>
<text transform="translate(413.7,515.5) rotate(-90)" font-size="9.4" text-anchor="end" fill="#111">D_38A2</text>
<text transform="translate(422.9,515.5) rotate(-90)" font-size="9.4" text-anchor="end" fill="#111">D_38A3</text>
<text transform="translate(432.0,515.5) rotate(-90)" font-size="9.4" text-anchor="end" fill="#111">D_38A5</text>
<text transform="translate(441.2,515.5) rotate(-90)" font-size="9.4" text-anchor="end" fill="#111">D_39A1</text>
<text transform="translate(450.4,515.5) rotate(-90)" font-size="9.4" text-anchor="end" fill="#111">D_39A3</text>
<text transform="translate(459.5,515.5) rotate(-90)" font-size="9.4" text-anchor="end" fill="#111">D_41A3</text>
<text transform="translate(468.7,515.5) rotate(-90)" font-size="9.4" text-anchor="end" fill="#111">D_44A2</text>
<text transform="translate(477.8,515.5) rotate(-90)" font-size="9.4" text-anchor="end" fill="#111">D_44A4</text>
<text transform="translate(487.0,515.5) rotate(-90)" font-size="9.4" text-anchor="end" fill="#111">DP21A1</text>
<text transform="translate(496.2,515.5) rotate(-90)" font-size="9.4" text-anchor="end" fill="#111">DP23A1</text>
<text transform="translate(505.3,515.5) rotate(-90)" font-size="9.4" text-anchor="end" fill="#111">DP23A2</text>
<path d="M71.7 505.2V511.8M80.9 505.2V511.8M90.0 505.2V511.8M99.2 505.2V511.8M108.3 505.2V511.8M117.5 505.2V511.8M126.7 505.2V511.8M135.8 505.2V511.8M145.0 505.2V511.8M154.1 505.2V511.8M163.3 505.2V511.8M172.5 505.2V511.8M181.6 505.2V511.8M190.8 505.2V511.8M199.9 505.2V511.8M209.1 505.2V511.8M218.3 505.2V511.8M227.4 505.2V511.8M236.6 505.2V511.8M245.7 505.2V511.8M254.9 505.2V511.8M264.1 505.2V511.8M273.2 505.2V511.8M282.4 505.2V511.8M291.5 505.2V511.8M300.7 505.2V511.8M309.9 505.2V511.8M319.0 505.2V511.8M328.2 505.2V511.8M337.3 505.2V511.8M346.5 505.2V511.8M355.7 505.2V511.8M364.8 505.2V511.8M374.0 505.2V511.8M383.1 505.2V511.8M392.3 505.2V511.8M401.5 505.2V511.8M410.6 505.2V511.8M419.8 505.2V511.8M428.9 505.2V511.8M438.1 505.2V511.8M447.3 505.2V511.8M456.4 505.2V511.8M465.6 505.2V511.8M474.7 505.2V511.8M483.9 505.2V511.8M493.1 505.2V511.8M502.2 505.2V511.8" stroke="#333333" stroke-width="1"/>
<g fill="#111"><circle cx="71.7" cy="475.3" r="2.1"/><circle cx="80.9" cy="490.8" r="2.1"/><circle cx="90.0" cy="467.7" r="2.1"/><circle cx="99.2" cy="500" r="2.1"/><circle cx="108.3" cy="502.8" r="2.1"/><circle cx="117.5" cy="499.6" r="2.1"/><circle cx="126.7" cy="498.2" r="2.1"/><circle cx="135.8" cy="499.3" r="2.1"/><circle cx="145.0" cy="494.7" r="2.1"/><circle cx="154.1" cy="497.7" r="2.1"/><circle cx="163.3" cy="500.3" r="2.1"/><circle cx="172.5" cy="498.6" r="2.1"/><circle cx="181.6" cy="500.7" r="2.1"/><circle cx="190.8" cy="503.5" r="2.1"/><circle cx="199.9" cy="496.6" r="2.1"/><circle cx="209.1" cy="498.6" r="2.1"/><circle cx="218.3" cy="496.3" r="2.1"/><circle cx="227.4" cy="499.6" r="2.1"/><circle cx="236.6" cy="477.6" r="2.1"/><circle cx="245.7" cy="485" r="2.1"/><circle cx="254.9" cy="503.5" r="2.1"/><circle cx="264.1" cy="499.6" r="2.1"/><circle cx="273.2" cy="501.7" r="2.1"/><circle cx="282.4" cy="487.6" r="2.1"/><circle cx="291.5" cy="488.5" r="2.1"/><circle cx="300.7" cy="469.5" r="2.1"/><circle cx="309.9" cy="491.5" r="2.1"/><circle cx="319.0" cy="495.4" r="2.1"/><circle cx="328.2" cy="496.6" r="2.1"/><circle cx="337.3" cy="483.4" r="2.1"/><circle cx="346.5" cy="495.4" r="2.1"/><circle cx="355.7" cy="501.2" r="2.1"/><circle cx="364.8" cy="501.7" r="2.1"/><circle cx="374.0" cy="480" r="2.1"/><circle cx="383.1" cy="463.1" r="2.1"/><circle cx="392.3" cy="484.3" r="2.1"/><circle cx="401.5" cy="496.6" r="2.1"/><circle cx="410.6" cy="483.9" r="2.1"/><circle cx="419.8" cy="493.1" r="2.1"/><circle cx="428.9" cy="493.1" r="2.1"/><circle cx="438.1" cy="492.4" r="2.1"/><circle cx="447.3" cy="503" r="2.1"/><circle cx="456.4" cy="496.6" r="2.1"/><circle cx="465.6" cy="492.4" r="2.1"/><circle cx="474.7" cy="497.7" r="2.1"/><circle cx="483.9" cy="496.6" r="2.1"/><circle cx="493.1" cy="494.7" r="2.1"/><circle cx="502.2" cy="501.7" r="2.1"/></g>
<path d="M69.2 553.2H281.3M287.7 553.2H506" stroke="#111" stroke-width="2.2"/>
<text x="175.5" y="566.7" font-size="9.6" text-anchor="middle" fill="#111">FAP</text>
<text x="397" y="566.7" font-size="9.6" text-anchor="middle" fill="#111">MAP</text>
</svg></body></html>
